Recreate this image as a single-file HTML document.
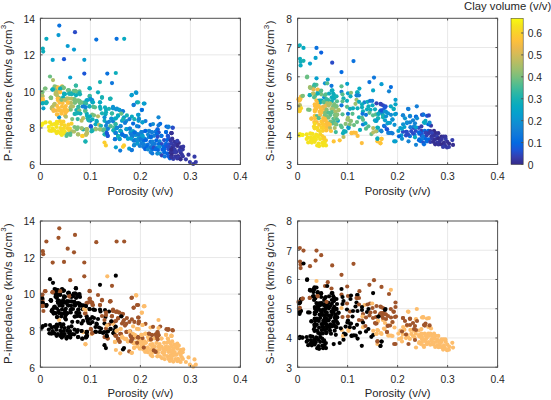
<!DOCTYPE html>
<html><head><meta charset="utf-8"><style>
html,body{margin:0;padding:0;background:#fff;}
svg{display:block;}
text{font-family:"Liberation Sans", sans-serif;fill:#262626;}
</style></head><body>
<svg width="551" height="400" viewBox="0 0 551 400">
<line x1="90.40" y1="18.3" x2="90.40" y2="164.5" stroke="#e8e8e8" stroke-width="1"/>
<line x1="140.40" y1="18.3" x2="140.40" y2="164.5" stroke="#e8e8e8" stroke-width="1"/>
<line x1="190.40" y1="18.3" x2="190.40" y2="164.5" stroke="#e8e8e8" stroke-width="1"/>
<line x1="40.4" y1="127.95" x2="240.4" y2="127.95" stroke="#e8e8e8" stroke-width="1"/>
<line x1="40.4" y1="91.40" x2="240.4" y2="91.40" stroke="#e8e8e8" stroke-width="1"/>
<line x1="40.4" y1="54.85" x2="240.4" y2="54.85" stroke="#e8e8e8" stroke-width="1"/>
<circle cx="61.4" cy="99.4" r="2.1" fill="#7abf7c"/>
<circle cx="65.8" cy="100.0" r="2.1" fill="#b8bd63"/>
<circle cx="68.9" cy="98.7" r="2.1" fill="#b8bd63"/>
<circle cx="74.3" cy="99.4" r="2.1" fill="#7abf7c"/>
<circle cx="54.8" cy="103.9" r="2.1" fill="#b8bd63"/>
<circle cx="60.1" cy="102.2" r="2.1" fill="#fdbe3e"/>
<circle cx="62.6" cy="103.1" r="2.1" fill="#fdbe3e"/>
<circle cx="68.3" cy="102.9" r="2.1" fill="#fdbe3e"/>
<circle cx="71.1" cy="102.9" r="2.1" fill="#b8bd63"/>
<circle cx="74.9" cy="102.6" r="2.1" fill="#7abf7c"/>
<circle cx="79.7" cy="103.1" r="2.1" fill="#6bbf83"/>
<circle cx="83.5" cy="102.6" r="2.1" fill="#33b8a1"/>
<circle cx="52.7" cy="106.6" r="2.1" fill="#b8bd63"/>
<circle cx="56.9" cy="105.8" r="2.1" fill="#fdbe3e"/>
<circle cx="62.0" cy="106.7" r="2.1" fill="#fdbe3e"/>
<circle cx="65.8" cy="106.1" r="2.1" fill="#fdbe3e"/>
<circle cx="70.5" cy="107.3" r="2.1" fill="#adbe68"/>
<circle cx="73.0" cy="106.3" r="2.1" fill="#adbe68"/>
<circle cx="78.2" cy="107.0" r="2.1" fill="#33b8a1"/>
<circle cx="82.7" cy="106.5" r="2.1" fill="#1484d4"/>
<circle cx="55.8" cy="110.5" r="2.1" fill="#f6ba46"/>
<circle cx="59.0" cy="110.4" r="2.1" fill="#fdbe3e"/>
<circle cx="64.1" cy="110.8" r="2.1" fill="#fdbe3e"/>
<circle cx="67.6" cy="110.4" r="2.1" fill="#fdbe3e"/>
<circle cx="70.8" cy="109.7" r="2.1" fill="#7abf7c"/>
<circle cx="76.3" cy="110.0" r="2.1" fill="#18b1b2"/>
<circle cx="79.3" cy="110.3" r="2.1" fill="#7abf7c"/>
<circle cx="61.4" cy="113.6" r="2.1" fill="#fdbe3e"/>
<circle cx="65.5" cy="112.9" r="2.1" fill="#fdbe3e"/>
<circle cx="74.6" cy="113.9" r="2.1" fill="#18b1b2"/>
<circle cx="77.6" cy="113.2" r="2.1" fill="#18b1b2"/>
<circle cx="50.0" cy="122.3" r="2.1" fill="#f5e31e"/>
<circle cx="56.8" cy="121.9" r="2.1" fill="#f5e71b"/>
<circle cx="60.0" cy="121.2" r="2.1" fill="#fad12b"/>
<circle cx="63.4" cy="121.7" r="2.1" fill="#fcce2d"/>
<circle cx="51.8" cy="124.6" r="2.1" fill="#f5e31e"/>
<circle cx="54.4" cy="124.1" r="2.1" fill="#f5e31e"/>
<circle cx="57.1" cy="123.7" r="2.1" fill="#f5e31e"/>
<circle cx="61.4" cy="124.2" r="2.1" fill="#fad12b"/>
<circle cx="64.7" cy="125.3" r="2.1" fill="#f7d826"/>
<circle cx="68.5" cy="124.7" r="2.1" fill="#fcce2d"/>
<circle cx="71.5" cy="123.7" r="2.1" fill="#fcce2d"/>
<circle cx="48.9" cy="126.9" r="2.1" fill="#f5ec18"/>
<circle cx="52.7" cy="128.5" r="2.1" fill="#f5e31e"/>
<circle cx="56.5" cy="127.0" r="2.1" fill="#f5e31e"/>
<circle cx="60.4" cy="128.1" r="2.1" fill="#f6dc23"/>
<circle cx="63.6" cy="128.3" r="2.1" fill="#f7d826"/>
<circle cx="67.2" cy="128.1" r="2.1" fill="#fad12b"/>
<circle cx="69.9" cy="128.5" r="2.1" fill="#fad12b"/>
<circle cx="74.5" cy="127.0" r="2.1" fill="#7abf7c"/>
<circle cx="51.4" cy="131.0" r="2.1" fill="#f5e31e"/>
<circle cx="54.4" cy="130.7" r="2.1" fill="#f5e31e"/>
<circle cx="57.9" cy="131.4" r="2.1" fill="#f6dc23"/>
<circle cx="61.5" cy="131.2" r="2.1" fill="#f6dc23"/>
<circle cx="64.7" cy="131.3" r="2.1" fill="#f5e31e"/>
<circle cx="69.2" cy="130.6" r="2.1" fill="#fad12b"/>
<circle cx="72.1" cy="131.4" r="2.1" fill="#adbe68"/>
<circle cx="56.6" cy="133.1" r="2.1" fill="#f5e31e"/>
<circle cx="60.4" cy="133.3" r="2.1" fill="#f5e31e"/>
<circle cx="63.9" cy="133.3" r="2.1" fill="#f5e31e"/>
<circle cx="67.5" cy="134.1" r="2.1" fill="#55bd8e"/>
<circle cx="70.2" cy="133.7" r="2.1" fill="#55bd8e"/>
<circle cx="135.7" cy="135.1" r="2.1" fill="#079dcf"/>
<circle cx="139.4" cy="135.2" r="2.1" fill="#1480d6"/>
<circle cx="138.3" cy="138.7" r="2.1" fill="#069fce"/>
<circle cx="141.1" cy="138.5" r="2.1" fill="#066fdf"/>
<circle cx="144.6" cy="138.7" r="2.1" fill="#1487d3"/>
<circle cx="148.8" cy="137.2" r="2.1" fill="#1487d3"/>
<circle cx="150.8" cy="137.4" r="2.1" fill="#1388d3"/>
<circle cx="168.7" cy="138.7" r="2.1" fill="#254fce"/>
<circle cx="172.2" cy="138.7" r="2.1" fill="#363195"/>
<circle cx="136.9" cy="141.0" r="2.1" fill="#1483d4"/>
<circle cx="140.0" cy="140.4" r="2.1" fill="#0b96d1"/>
<circle cx="143.6" cy="141.0" r="2.1" fill="#066ee0"/>
<circle cx="146.0" cy="140.1" r="2.1" fill="#0266e1"/>
<circle cx="150.4" cy="141.8" r="2.1" fill="#076fdf"/>
<circle cx="152.5" cy="141.5" r="2.1" fill="#1482d5"/>
<circle cx="156.4" cy="140.3" r="2.1" fill="#0364e1"/>
<circle cx="159.6" cy="141.4" r="2.1" fill="#1484d4"/>
<circle cx="164.1" cy="140.1" r="2.1" fill="#294cc9"/>
<circle cx="167.0" cy="140.1" r="2.1" fill="#0363e1"/>
<circle cx="170.6" cy="140.6" r="2.1" fill="#3637a2"/>
<circle cx="174.3" cy="141.8" r="2.1" fill="#363398"/>
<circle cx="177.0" cy="141.8" r="2.1" fill="#3638a3"/>
<circle cx="137.4" cy="143.7" r="2.1" fill="#089bd0"/>
<circle cx="141.5" cy="143.3" r="2.1" fill="#127cd8"/>
<circle cx="143.9" cy="144.5" r="2.1" fill="#079ecf"/>
<circle cx="147.8" cy="144.7" r="2.1" fill="#0b73dd"/>
<circle cx="152.2" cy="143.7" r="2.1" fill="#137fd7"/>
<circle cx="154.8" cy="143.9" r="2.1" fill="#1079da"/>
<circle cx="158.6" cy="144.0" r="2.1" fill="#046de0"/>
<circle cx="161.8" cy="144.1" r="2.1" fill="#2c4ac6"/>
<circle cx="165.9" cy="143.9" r="2.1" fill="#046ce0"/>
<circle cx="168.4" cy="144.3" r="2.1" fill="#1d54d5"/>
<circle cx="171.4" cy="143.5" r="2.1" fill="#353cab"/>
<circle cx="176.2" cy="143.9" r="2.1" fill="#36349a"/>
<circle cx="178.8" cy="143.0" r="2.1" fill="#362e8d"/>
<circle cx="139.8" cy="146.0" r="2.1" fill="#137fd7"/>
<circle cx="143.2" cy="146.8" r="2.1" fill="#1079da"/>
<circle cx="146.7" cy="146.6" r="2.1" fill="#0269e1"/>
<circle cx="150.2" cy="147.3" r="2.1" fill="#0e77db"/>
<circle cx="152.3" cy="146.0" r="2.1" fill="#127cd8"/>
<circle cx="156.9" cy="147.7" r="2.1" fill="#1483d5"/>
<circle cx="159.6" cy="146.8" r="2.1" fill="#0d92d2"/>
<circle cx="163.6" cy="146.5" r="2.1" fill="#0269e1"/>
<circle cx="166.6" cy="146.5" r="2.1" fill="#2052d3"/>
<circle cx="170.0" cy="147.0" r="2.1" fill="#3046be"/>
<circle cx="173.2" cy="146.6" r="2.1" fill="#352c8a"/>
<circle cx="177.5" cy="146.0" r="2.1" fill="#352d8d"/>
<circle cx="180.5" cy="147.3" r="2.1" fill="#3637a1"/>
<circle cx="145.1" cy="149.1" r="2.1" fill="#0761e0"/>
<circle cx="147.8" cy="149.5" r="2.1" fill="#1389d3"/>
<circle cx="152.1" cy="149.7" r="2.1" fill="#036be0"/>
<circle cx="155.5" cy="149.2" r="2.1" fill="#0770df"/>
<circle cx="158.0" cy="150.1" r="2.1" fill="#0269e1"/>
<circle cx="162.4" cy="149.7" r="2.1" fill="#0860e0"/>
<circle cx="164.6" cy="149.1" r="2.1" fill="#0265e1"/>
<circle cx="168.6" cy="149.2" r="2.1" fill="#284dcb"/>
<circle cx="172.5" cy="150.4" r="2.1" fill="#352d8c"/>
<circle cx="174.7" cy="149.4" r="2.1" fill="#353ba9"/>
<circle cx="179.3" cy="150.0" r="2.1" fill="#353dad"/>
<circle cx="182.7" cy="149.5" r="2.1" fill="#3637a1"/>
<circle cx="150.6" cy="152.1" r="2.1" fill="#1484d4"/>
<circle cx="152.3" cy="153.5" r="2.1" fill="#0f78db"/>
<circle cx="157.3" cy="153.6" r="2.1" fill="#128bd2"/>
<circle cx="159.9" cy="153.6" r="2.1" fill="#0f90d2"/>
<circle cx="164.2" cy="152.2" r="2.1" fill="#0269e1"/>
<circle cx="167.2" cy="153.4" r="2.1" fill="#0462e0"/>
<circle cx="170.5" cy="152.8" r="2.1" fill="#363296"/>
<circle cx="173.2" cy="152.5" r="2.1" fill="#363296"/>
<circle cx="176.5" cy="152.0" r="2.1" fill="#36349a"/>
<circle cx="180.6" cy="152.4" r="2.1" fill="#363297"/>
<circle cx="161.9" cy="155.4" r="2.1" fill="#3243b9"/>
<circle cx="164.7" cy="156.4" r="2.1" fill="#0e77db"/>
<circle cx="168.5" cy="156.2" r="2.1" fill="#1658da"/>
<circle cx="171.6" cy="155.2" r="2.1" fill="#352c8b"/>
<circle cx="175.4" cy="156.3" r="2.1" fill="#36369f"/>
<circle cx="178.1" cy="156.2" r="2.1" fill="#352c8b"/>
<circle cx="182.9" cy="156.3" r="2.1" fill="#36359d"/>
<circle cx="169.9" cy="158.3" r="2.1" fill="#0760e0"/>
<circle cx="173.3" cy="158.9" r="2.1" fill="#353dad"/>
<circle cx="177.2" cy="158.4" r="2.1" fill="#36369f"/>
<circle cx="179.8" cy="158.4" r="2.1" fill="#352c8a"/>
<circle cx="59.3" cy="25.6" r="2.1" fill="#0a72de"/>
<circle cx="75.0" cy="32.2" r="2.1" fill="#2b4bc7"/>
<circle cx="58.5" cy="35.1" r="2.1" fill="#0899d1"/>
<circle cx="46.4" cy="38.8" r="2.1" fill="#07aac1"/>
<circle cx="96.3" cy="39.6" r="2.1" fill="#0a72de"/>
<circle cx="67.7" cy="46.0" r="2.1" fill="#079cd0"/>
<circle cx="74.0" cy="49.6" r="2.1" fill="#079cd0"/>
<circle cx="42.8" cy="48.6" r="2.1" fill="#0cadbb"/>
<circle cx="43.2" cy="51.6" r="2.1" fill="#0cadbb"/>
<circle cx="52.7" cy="59.9" r="2.1" fill="#06a3cb"/>
<circle cx="64.0" cy="59.2" r="2.1" fill="#1b55d7"/>
<circle cx="84.3" cy="59.8" r="2.1" fill="#079cd0"/>
<circle cx="84.3" cy="73.6" r="2.1" fill="#1b55d7"/>
<circle cx="116.6" cy="38.8" r="2.1" fill="#0a72de"/>
<circle cx="124.2" cy="38.8" r="2.1" fill="#07aac1"/>
<circle cx="107.3" cy="73.6" r="2.1" fill="#0a72de"/>
<circle cx="115.8" cy="73.0" r="2.1" fill="#0cadbb"/>
<circle cx="50.0" cy="76.5" r="2.1" fill="#6bbf83"/>
<circle cx="53.0" cy="80.1" r="2.1" fill="#adbe68"/>
<circle cx="70.2" cy="77.5" r="2.1" fill="#079cd0"/>
<circle cx="75.8" cy="85.5" r="2.1" fill="#33b8a1"/>
<circle cx="45.5" cy="88.5" r="2.1" fill="#7abf7c"/>
<circle cx="52.8" cy="89.5" r="2.1" fill="#0cadbb"/>
<circle cx="42.5" cy="92.1" r="2.1" fill="#7abf7c"/>
<circle cx="56.0" cy="86.8" r="2.1" fill="#88bf77"/>
<circle cx="62.0" cy="86.3" r="2.1" fill="#fdbe3e"/>
<circle cx="60.2" cy="88.5" r="2.1" fill="#0cadbb"/>
<circle cx="64.0" cy="87.8" r="2.1" fill="#7abf7c"/>
<circle cx="57.0" cy="91.3" r="2.1" fill="#b8bd63"/>
<circle cx="60.0" cy="92.3" r="2.1" fill="#fdbe3e"/>
<circle cx="55.5" cy="94.1" r="2.1" fill="#b8bd63"/>
<circle cx="69.0" cy="90.5" r="2.1" fill="#6bbf83"/>
<circle cx="69.5" cy="93.5" r="2.1" fill="#18b1b2"/>
<circle cx="73.0" cy="93.5" r="2.1" fill="#0cadbb"/>
<circle cx="75.5" cy="90.8" r="2.1" fill="#6bbf83"/>
<circle cx="79.0" cy="91.8" r="2.1" fill="#55bd8e"/>
<circle cx="80.0" cy="94.3" r="2.1" fill="#18b1b2"/>
<circle cx="65.0" cy="94.1" r="2.1" fill="#0cadbb"/>
<circle cx="50.8" cy="97.8" r="2.1" fill="#7abf7c"/>
<circle cx="42.5" cy="96.3" r="2.1" fill="#adbe68"/>
<circle cx="42.5" cy="98.3" r="2.1" fill="#fdbe3e"/>
<circle cx="43.0" cy="100.3" r="2.1" fill="#fdbe3e"/>
<circle cx="46.5" cy="102.3" r="2.1" fill="#18b1b2"/>
<circle cx="42.5" cy="103.5" r="2.1" fill="#0cadbb"/>
<circle cx="59.0" cy="97.8" r="2.1" fill="#7abf7c"/>
<circle cx="58.0" cy="100.3" r="2.1" fill="#fdbe3e"/>
<circle cx="63.0" cy="99.3" r="2.1" fill="#b8bd63"/>
<circle cx="67.0" cy="98.3" r="2.1" fill="#b8bd63"/>
<circle cx="74.0" cy="99.3" r="2.1" fill="#7abf7c"/>
<circle cx="78.0" cy="100.3" r="2.1" fill="#7abf7c"/>
<circle cx="81.0" cy="102.3" r="2.1" fill="#6bbf83"/>
<circle cx="85.0" cy="103.3" r="2.1" fill="#33b8a1"/>
<circle cx="86.5" cy="100.3" r="2.1" fill="#06a6c6"/>
<circle cx="100.0" cy="82.1" r="2.1" fill="#18b1b2"/>
<circle cx="112.0" cy="83.1" r="2.1" fill="#0f77db"/>
<circle cx="89.8" cy="88.5" r="2.1" fill="#0cadbb"/>
<circle cx="98.0" cy="92.3" r="2.1" fill="#0cadbb"/>
<circle cx="136.0" cy="92.3" r="2.1" fill="#069ece"/>
<circle cx="131.5" cy="95.3" r="2.1" fill="#069ece"/>
<circle cx="89.8" cy="95.8" r="2.1" fill="#33b8a1"/>
<circle cx="102.0" cy="97.1" r="2.1" fill="#18b1b2"/>
<circle cx="110.2" cy="98.8" r="2.1" fill="#18b1b2"/>
<circle cx="91.0" cy="99.8" r="2.1" fill="#0d93d2"/>
<circle cx="92.5" cy="102.3" r="2.1" fill="#07aac1"/>
<circle cx="100.0" cy="102.3" r="2.1" fill="#07aac1"/>
<circle cx="137.0" cy="102.3" r="2.1" fill="#069ece"/>
<circle cx="133.5" cy="105.1" r="2.1" fill="#118cd2"/>
<circle cx="113.0" cy="106.8" r="2.1" fill="#0d93d2"/>
<circle cx="144.5" cy="103.5" r="2.1" fill="#128bd3"/>
<circle cx="141.8" cy="110.1" r="2.1" fill="#079cd0"/>
<circle cx="138.5" cy="114.8" r="2.1" fill="#127cd8"/>
<circle cx="139.0" cy="118.8" r="2.1" fill="#07aac1"/>
<circle cx="138.5" cy="120.8" r="2.1" fill="#069ece"/>
<circle cx="158.5" cy="117.3" r="2.1" fill="#1487d3"/>
<circle cx="145.5" cy="121.1" r="2.1" fill="#127cd8"/>
<circle cx="142.5" cy="122.3" r="2.1" fill="#0998d1"/>
<circle cx="150.5" cy="124.8" r="2.1" fill="#0268e1"/>
<circle cx="153.0" cy="124.1" r="2.1" fill="#118cd2"/>
<circle cx="160.2" cy="123.8" r="2.1" fill="#036ae1"/>
<circle cx="158.5" cy="125.3" r="2.1" fill="#1079da"/>
<circle cx="166.5" cy="126.5" r="2.1" fill="#036ae1"/>
<circle cx="168.5" cy="126.5" r="2.1" fill="#118cd2"/>
<circle cx="172.5" cy="127.5" r="2.1" fill="#127cd8"/>
<circle cx="138.5" cy="126.5" r="2.1" fill="#066fdf"/>
<circle cx="141.5" cy="132.1" r="2.1" fill="#079ecf"/>
<circle cx="145.5" cy="130.8" r="2.1" fill="#1484d4"/>
<circle cx="149.0" cy="130.8" r="2.1" fill="#07aac1"/>
<circle cx="152.0" cy="132.3" r="2.1" fill="#118cd2"/>
<circle cx="157.5" cy="129.3" r="2.1" fill="#2b4bc7"/>
<circle cx="156.5" cy="131.8" r="2.1" fill="#036ae1"/>
<circle cx="158.5" cy="132.3" r="2.1" fill="#036ae1"/>
<circle cx="166.0" cy="132.1" r="2.1" fill="#0e77db"/>
<circle cx="171.5" cy="133.1" r="2.1" fill="#352b88"/>
<circle cx="138.5" cy="134.8" r="2.1" fill="#18b1b2"/>
<circle cx="142.5" cy="136.3" r="2.1" fill="#079cd0"/>
<circle cx="148.0" cy="134.5" r="2.1" fill="#1388d3"/>
<circle cx="151.0" cy="136.3" r="2.1" fill="#036ae1"/>
<circle cx="154.0" cy="135.8" r="2.1" fill="#137fd7"/>
<circle cx="157.5" cy="135.8" r="2.1" fill="#118cd2"/>
<circle cx="161.5" cy="135.8" r="2.1" fill="#0268e1"/>
<circle cx="167.8" cy="135.8" r="2.1" fill="#2450cf"/>
<circle cx="55.9" cy="88.2" r="2.1" fill="#88bf77"/>
<circle cx="63.1" cy="88.2" r="2.1" fill="#7abf7c"/>
<circle cx="68.6" cy="90.0" r="2.1" fill="#6bbf83"/>
<circle cx="75.0" cy="90.9" r="2.1" fill="#6bbf83"/>
<circle cx="79.5" cy="91.4" r="2.1" fill="#55bd8e"/>
<circle cx="56.8" cy="93.7" r="2.1" fill="#b8bd63"/>
<circle cx="64.0" cy="93.7" r="2.1" fill="#0cadbb"/>
<circle cx="72.2" cy="93.2" r="2.1" fill="#0cadbb"/>
<circle cx="77.7" cy="93.7" r="2.1" fill="#18b1b2"/>
<circle cx="50.9" cy="97.7" r="2.1" fill="#7abf7c"/>
<circle cx="57.7" cy="98.6" r="2.1" fill="#fdbe3e"/>
<circle cx="63.1" cy="97.3" r="2.1" fill="#0cadbb"/>
<circle cx="74.0" cy="99.1" r="2.1" fill="#7abf7c"/>
<circle cx="79.5" cy="100.9" r="2.1" fill="#6bbf83"/>
<circle cx="46.4" cy="102.3" r="2.1" fill="#18b1b2"/>
<circle cx="54.1" cy="104.5" r="2.1" fill="#b8bd63"/>
<circle cx="59.5" cy="102.7" r="2.1" fill="#fdbe3e"/>
<circle cx="67.7" cy="102.3" r="2.1" fill="#fdbe3e"/>
<circle cx="75.0" cy="102.7" r="2.1" fill="#7abf7c"/>
<circle cx="81.3" cy="102.7" r="2.1" fill="#6bbf83"/>
<circle cx="85.8" cy="103.6" r="2.1" fill="#33b8a1"/>
<circle cx="51.8" cy="108.6" r="2.1" fill="#b8bd63"/>
<circle cx="58.6" cy="108.2" r="2.1" fill="#fdbe3e"/>
<circle cx="65.0" cy="108.2" r="2.1" fill="#fdbe3e"/>
<circle cx="71.3" cy="106.4" r="2.1" fill="#adbe68"/>
<circle cx="78.6" cy="106.8" r="2.1" fill="#33b8a1"/>
<circle cx="89.5" cy="106.4" r="2.1" fill="#0cadbb"/>
<circle cx="93.5" cy="106.8" r="2.1" fill="#55bd8e"/>
<circle cx="53.6" cy="110.9" r="2.1" fill="#f6ba46"/>
<circle cx="61.3" cy="110.9" r="2.1" fill="#fdbe3e"/>
<circle cx="66.3" cy="111.3" r="2.1" fill="#fdbe3e"/>
<circle cx="57.3" cy="114.5" r="2.1" fill="#fdbe3e"/>
<circle cx="65.0" cy="115.4" r="2.1" fill="#fdbe3e"/>
<circle cx="75.9" cy="113.6" r="2.1" fill="#18b1b2"/>
<circle cx="80.4" cy="113.6" r="2.1" fill="#0cadbb"/>
<circle cx="86.7" cy="113.6" r="2.1" fill="#0cadbb"/>
<circle cx="92.2" cy="114.5" r="2.1" fill="#7abf7c"/>
<circle cx="72.2" cy="119.1" r="2.1" fill="#7abf7c"/>
<circle cx="77.7" cy="119.1" r="2.1" fill="#33b8a1"/>
<circle cx="83.1" cy="118.2" r="2.1" fill="#b8bd63"/>
<circle cx="87.6" cy="118.2" r="2.1" fill="#18b1b2"/>
<circle cx="52.3" cy="89.6" r="2.1" fill="#0cadbb"/>
<circle cx="60.0" cy="88.7" r="2.1" fill="#0cadbb"/>
<circle cx="69.5" cy="93.7" r="2.1" fill="#18b1b2"/>
<circle cx="89.5" cy="88.2" r="2.1" fill="#0cadbb"/>
<circle cx="89.5" cy="96.4" r="2.1" fill="#33b8a1"/>
<circle cx="87.6" cy="100.0" r="2.1" fill="#06a6c6"/>
<circle cx="92.2" cy="100.0" r="2.1" fill="#0d93d2"/>
<circle cx="85.0" cy="110.9" r="2.1" fill="#55bd8e"/>
<circle cx="59.1" cy="117.3" r="2.1" fill="#0d93d2"/>
<circle cx="84.0" cy="106.3" r="2.1" fill="#1484d4"/>
<circle cx="42.9" cy="123.5" r="2.1" fill="#f5ec18"/>
<circle cx="45.6" cy="122.4" r="2.1" fill="#f5e31e"/>
<circle cx="41.8" cy="125.1" r="2.1" fill="#f5ec18"/>
<circle cx="77.8" cy="127.3" r="2.1" fill="#7abf7c"/>
<circle cx="81.6" cy="128.3" r="2.1" fill="#9bbf6f"/>
<circle cx="86.0" cy="129.5" r="2.1" fill="#adbe68"/>
<circle cx="87.0" cy="132.7" r="2.1" fill="#b8bd63"/>
<circle cx="78.3" cy="134.3" r="2.1" fill="#adbe68"/>
<circle cx="82.1" cy="136.0" r="2.1" fill="#fcce2d"/>
<circle cx="86.0" cy="134.9" r="2.1" fill="#b8bd63"/>
<circle cx="85.4" cy="141.4" r="2.1" fill="#18b1b2"/>
<circle cx="83.2" cy="129.5" r="2.1" fill="#18b1b2"/>
<circle cx="90.8" cy="126.2" r="2.1" fill="#1b55d7"/>
<circle cx="92.5" cy="130.6" r="2.1" fill="#18b1b2"/>
<circle cx="81.6" cy="120.7" r="2.1" fill="#b8bd63"/>
<circle cx="90.3" cy="120.7" r="2.1" fill="#0f77db"/>
<circle cx="96.8" cy="121.8" r="2.1" fill="#07aac1"/>
<circle cx="49.4" cy="130.6" r="2.1" fill="#f5e31e"/>
<circle cx="57.0" cy="132.1" r="2.1" fill="#f5e31e"/>
<circle cx="61.8" cy="134.9" r="2.1" fill="#f5e31e"/>
<circle cx="66.5" cy="135.9" r="2.1" fill="#55bd8e"/>
<circle cx="70.3" cy="134.9" r="2.1" fill="#55bd8e"/>
<circle cx="74.1" cy="131.6" r="2.1" fill="#adbe68"/>
<circle cx="77.9" cy="134.4" r="2.1" fill="#adbe68"/>
<circle cx="77.0" cy="129.2" r="2.1" fill="#7abf7c"/>
<circle cx="81.7" cy="128.3" r="2.1" fill="#9bbf6f"/>
<circle cx="82.7" cy="135.9" r="2.1" fill="#fcce2d"/>
<circle cx="86.5" cy="134.0" r="2.1" fill="#b8bd63"/>
<circle cx="87.0" cy="129.2" r="2.1" fill="#adbe68"/>
<circle cx="86.0" cy="103.3" r="2.1" fill="#33b8a1"/>
<circle cx="89.5" cy="106.3" r="2.1" fill="#0cadbb"/>
<circle cx="93.5" cy="106.8" r="2.1" fill="#55bd8e"/>
<circle cx="95.0" cy="107.3" r="2.1" fill="#55bd8e"/>
<circle cx="100.0" cy="106.8" r="2.1" fill="#0cadbb"/>
<circle cx="100.5" cy="108.8" r="2.1" fill="#0cadbb"/>
<circle cx="105.0" cy="107.3" r="2.1" fill="#0cadbb"/>
<circle cx="109.0" cy="108.8" r="2.1" fill="#18b1b2"/>
<circle cx="121.5" cy="113.3" r="2.1" fill="#27b5a8"/>
<circle cx="87.0" cy="115.8" r="2.1" fill="#0cadbb"/>
<circle cx="90.0" cy="116.3" r="2.1" fill="#07aac1"/>
<circle cx="94.0" cy="115.3" r="2.1" fill="#7abf7c"/>
<circle cx="98.0" cy="116.3" r="2.1" fill="#b8bd63"/>
<circle cx="88.5" cy="120.3" r="2.1" fill="#18b1b2"/>
<circle cx="92.5" cy="119.3" r="2.1" fill="#0cadbb"/>
<circle cx="96.5" cy="120.8" r="2.1" fill="#07aac1"/>
<circle cx="105.5" cy="114.3" r="2.1" fill="#0cadbb"/>
<circle cx="111.5" cy="118.8" r="2.1" fill="#0d93d2"/>
<circle cx="104.5" cy="120.8" r="2.1" fill="#0cadbb"/>
<circle cx="95.5" cy="124.3" r="2.1" fill="#07aac1"/>
<circle cx="99.0" cy="124.8" r="2.1" fill="#adbe68"/>
<circle cx="101.0" cy="125.8" r="2.1" fill="#18b1b2"/>
<circle cx="115.5" cy="123.8" r="2.1" fill="#88bf77"/>
<circle cx="114.5" cy="127.3" r="2.1" fill="#55bd8e"/>
<circle cx="110.5" cy="126.3" r="2.1" fill="#55bd8e"/>
<circle cx="106.5" cy="129.3" r="2.1" fill="#1484d4"/>
<circle cx="96.0" cy="129.3" r="2.1" fill="#9bbf6f"/>
<circle cx="100.0" cy="129.3" r="2.1" fill="#9bbf6f"/>
<circle cx="103.0" cy="130.3" r="2.1" fill="#55bd8e"/>
<circle cx="113.5" cy="130.3" r="2.1" fill="#0cadbb"/>
<circle cx="86.5" cy="129.8" r="2.1" fill="#adbe68"/>
<circle cx="86.5" cy="133.8" r="2.1" fill="#b8bd63"/>
<circle cx="106.5" cy="132.8" r="2.1" fill="#1b55d7"/>
<circle cx="90.5" cy="98.8" r="2.1" fill="#0d93d2"/>
<circle cx="93.0" cy="102.3" r="2.1" fill="#07aac1"/>
<circle cx="102.0" cy="97.8" r="2.1" fill="#18b1b2"/>
<circle cx="110.0" cy="98.8" r="2.1" fill="#18b1b2"/>
<circle cx="100.0" cy="102.3" r="2.1" fill="#07aac1"/>
<circle cx="85.5" cy="110.3" r="2.1" fill="#55bd8e"/>
<circle cx="106.0" cy="109.8" r="2.1" fill="#0cadbb"/>
<circle cx="106.0" cy="112.3" r="2.1" fill="#0cadbb"/>
<circle cx="113.0" cy="108.3" r="2.1" fill="#0d93d2"/>
<circle cx="116.0" cy="109.3" r="2.1" fill="#0d93d2"/>
<circle cx="119.0" cy="109.8" r="2.1" fill="#127cd8"/>
<circle cx="123.0" cy="111.3" r="2.1" fill="#127cd8"/>
<circle cx="102.0" cy="113.3" r="2.1" fill="#18b1b2"/>
<circle cx="112.0" cy="113.3" r="2.1" fill="#33b8a1"/>
<circle cx="118.0" cy="115.8" r="2.1" fill="#07aac1"/>
<circle cx="116.0" cy="118.3" r="2.1" fill="#07aac1"/>
<circle cx="124.0" cy="117.3" r="2.1" fill="#069ece"/>
<circle cx="104.5" cy="117.3" r="2.1" fill="#0d93d2"/>
<circle cx="109.0" cy="121.8" r="2.1" fill="#1484d4"/>
<circle cx="122.0" cy="120.8" r="2.1" fill="#069ece"/>
<circle cx="91.0" cy="126.8" r="2.1" fill="#1b55d7"/>
<circle cx="92.5" cy="130.3" r="2.1" fill="#18b1b2"/>
<circle cx="106.0" cy="125.8" r="2.1" fill="#1484d4"/>
<circle cx="121.0" cy="131.3" r="2.1" fill="#07aac1"/>
<circle cx="116.0" cy="132.8" r="2.1" fill="#118cd2"/>
<circle cx="104.5" cy="134.3" r="2.1" fill="#18b1b2"/>
<circle cx="107.5" cy="135.8" r="2.1" fill="#1b55d7"/>
<circle cx="118.0" cy="135.8" r="2.1" fill="#18b1b2"/>
<circle cx="85.5" cy="107.3" r="2.1" fill="#1484d4"/>
<circle cx="107.0" cy="122.8" r="2.1" fill="#1484d4"/>
<circle cx="113.0" cy="121.3" r="2.1" fill="#1484d4"/>
<circle cx="117.0" cy="127.8" r="2.1" fill="#0b96d1"/>
<circle cx="120.5" cy="126.3" r="2.1" fill="#0c74dd"/>
<circle cx="91.5" cy="131.3" r="2.1" fill="#18b1b2"/>
<circle cx="122.0" cy="134.8" r="2.1" fill="#1078da"/>
<circle cx="124.5" cy="135.8" r="2.1" fill="#036be0"/>
<circle cx="110.6" cy="98.5" r="2.1" fill="#18b1b2"/>
<circle cx="131.9" cy="94.8" r="2.1" fill="#069ece"/>
<circle cx="133.8" cy="104.8" r="2.1" fill="#127cd8"/>
<circle cx="138.1" cy="102.3" r="2.1" fill="#18b1b2"/>
<circle cx="113.1" cy="107.9" r="2.1" fill="#0d93d2"/>
<circle cx="116.9" cy="108.6" r="2.1" fill="#0d93d2"/>
<circle cx="119.4" cy="109.8" r="2.1" fill="#069ece"/>
<circle cx="122.5" cy="111.1" r="2.1" fill="#127cd8"/>
<circle cx="111.9" cy="113.6" r="2.1" fill="#33b8a1"/>
<circle cx="118.1" cy="115.4" r="2.1" fill="#07aac1"/>
<circle cx="115.0" cy="118.6" r="2.1" fill="#07aac1"/>
<circle cx="126.9" cy="115.4" r="2.1" fill="#18b1b2"/>
<circle cx="131.9" cy="116.7" r="2.1" fill="#07aac1"/>
<circle cx="138.1" cy="114.8" r="2.1" fill="#069ece"/>
<circle cx="123.1" cy="119.2" r="2.1" fill="#18b1b2"/>
<circle cx="126.3" cy="121.1" r="2.1" fill="#118cd2"/>
<circle cx="129.4" cy="119.2" r="2.1" fill="#127cd8"/>
<circle cx="134.4" cy="119.2" r="2.1" fill="#18b1b2"/>
<circle cx="138.8" cy="119.2" r="2.1" fill="#118cd2"/>
<circle cx="125.0" cy="122.9" r="2.1" fill="#127cd8"/>
<circle cx="126.3" cy="129.2" r="2.1" fill="#118cd2"/>
<circle cx="130.0" cy="128.6" r="2.1" fill="#069ece"/>
<circle cx="130.6" cy="132.3" r="2.1" fill="#127cd8"/>
<circle cx="132.5" cy="135.4" r="2.1" fill="#118cd2"/>
<circle cx="120.6" cy="131.1" r="2.1" fill="#118cd2"/>
<circle cx="115.6" cy="132.9" r="2.1" fill="#069ece"/>
<circle cx="118.1" cy="136.1" r="2.1" fill="#069ece"/>
<circle cx="119.4" cy="138.6" r="2.1" fill="#18b1b2"/>
<circle cx="137.5" cy="134.2" r="2.1" fill="#118cd2"/>
<circle cx="142.5" cy="135.4" r="2.1" fill="#069ece"/>
<circle cx="121.3" cy="113.6" r="2.1" fill="#6bbf83"/>
<circle cx="111.3" cy="118.6" r="2.1" fill="#0d93d2"/>
<circle cx="115.6" cy="124.2" r="2.1" fill="#27b5a8"/>
<circle cx="113.8" cy="129.8" r="2.1" fill="#3fba99"/>
<circle cx="110.6" cy="126.1" r="2.1" fill="#55bd8e"/>
<circle cx="136.3" cy="92.9" r="2.1" fill="#0a96d1"/>
<circle cx="143.8" cy="103.6" r="2.1" fill="#06a0cd"/>
<circle cx="141.9" cy="109.8" r="2.1" fill="#046ce0"/>
<circle cx="133.1" cy="123.6" r="2.1" fill="#036be0"/>
<circle cx="136.9" cy="126.1" r="2.1" fill="#1484d4"/>
<circle cx="142.5" cy="122.3" r="2.1" fill="#069fce"/>
<circle cx="120.6" cy="126.1" r="2.1" fill="#1484d4"/>
<circle cx="116.9" cy="127.9" r="2.1" fill="#0f77db"/>
<circle cx="135.0" cy="132.3" r="2.1" fill="#1481d6"/>
<circle cx="141.3" cy="132.3" r="2.1" fill="#118dd2"/>
<circle cx="122.5" cy="134.8" r="2.1" fill="#118cd2"/>
<circle cx="126.3" cy="136.1" r="2.1" fill="#118dd2"/>
<circle cx="115.0" cy="139.2" r="2.1" fill="#0f77db"/>
<circle cx="128.1" cy="138.6" r="2.1" fill="#079bd0"/>
<circle cx="135.0" cy="139.8" r="2.1" fill="#069fce"/>
<circle cx="140.0" cy="139.2" r="2.1" fill="#117ad9"/>
<circle cx="86.4" cy="134.0" r="2.1" fill="#b8bd63"/>
<circle cx="86.9" cy="129.2" r="2.1" fill="#adbe68"/>
<circle cx="85.5" cy="141.6" r="2.1" fill="#18b1b2"/>
<circle cx="92.1" cy="130.6" r="2.1" fill="#18b1b2"/>
<circle cx="95.5" cy="128.8" r="2.1" fill="#9bbf6f"/>
<circle cx="100.0" cy="129.3" r="2.1" fill="#9bbf6f"/>
<circle cx="104.0" cy="129.3" r="2.1" fill="#55bd8e"/>
<circle cx="108.0" cy="128.8" r="2.1" fill="#1484d4"/>
<circle cx="113.5" cy="130.6" r="2.1" fill="#0cadbb"/>
<circle cx="105.0" cy="134.4" r="2.1" fill="#18b1b2"/>
<circle cx="107.8" cy="135.9" r="2.1" fill="#1b55d7"/>
<circle cx="106.9" cy="133.5" r="2.1" fill="#1b55d7"/>
<circle cx="104.5" cy="142.5" r="2.1" fill="#fcce2d"/>
<circle cx="105.9" cy="145.4" r="2.1" fill="#fcce2d"/>
<circle cx="115.4" cy="133.0" r="2.1" fill="#127cd8"/>
<circle cx="120.2" cy="131.1" r="2.1" fill="#07aac1"/>
<circle cx="118.3" cy="136.8" r="2.1" fill="#18b1b2"/>
<circle cx="119.7" cy="139.2" r="2.1" fill="#069ece"/>
<circle cx="115.0" cy="139.2" r="2.1" fill="#0f77db"/>
<circle cx="116.4" cy="128.3" r="2.1" fill="#108fd2"/>
<circle cx="122.1" cy="134.0" r="2.1" fill="#046de0"/>
<circle cx="124.9" cy="136.3" r="2.1" fill="#0c74dd"/>
<circle cx="126.8" cy="129.2" r="2.1" fill="#069ece"/>
<circle cx="130.6" cy="133.0" r="2.1" fill="#07aac1"/>
<circle cx="131.6" cy="136.8" r="2.1" fill="#127cd8"/>
<circle cx="129.7" cy="128.7" r="2.1" fill="#0f78db"/>
<circle cx="133.0" cy="131.1" r="2.1" fill="#069fce"/>
<circle cx="127.8" cy="138.7" r="2.1" fill="#069fce"/>
<circle cx="133.5" cy="140.6" r="2.1" fill="#1486d4"/>
<circle cx="124.0" cy="145.4" r="2.1" fill="#fcce2d"/>
<circle cx="123.0" cy="146.8" r="2.1" fill="#fcce2d"/>
<circle cx="115.9" cy="147.3" r="2.1" fill="#069fce"/>
<circle cx="120.2" cy="150.6" r="2.1" fill="#117ad9"/>
<circle cx="129.2" cy="148.7" r="2.1" fill="#069ece"/>
<circle cx="131.6" cy="150.1" r="2.1" fill="#0c74dd"/>
<circle cx="134.0" cy="145.4" r="2.1" fill="#127bd9"/>
<circle cx="134.3" cy="132.5" r="2.1" fill="#066fdf"/>
<circle cx="134.8" cy="140.6" r="2.1" fill="#1079da"/>
<circle cx="134.3" cy="144.9" r="2.1" fill="#118dd2"/>
<circle cx="131.9" cy="150.1" r="2.1" fill="#0f77db"/>
<circle cx="131.0" cy="134.0" r="2.1" fill="#127cd8"/>
<circle cx="132.4" cy="136.3" r="2.1" fill="#127cd8"/>
<circle cx="131.0" cy="138.7" r="2.1" fill="#069ece"/>
<circle cx="138.1" cy="134.7" r="2.1" fill="#127cd8"/>
<circle cx="137.1" cy="140.1" r="2.1" fill="#118cd2"/>
<circle cx="141.9" cy="132.1" r="2.1" fill="#137fd7"/>
<circle cx="145.2" cy="131.1" r="2.1" fill="#0363e1"/>
<circle cx="149.0" cy="131.1" r="2.1" fill="#127cd8"/>
<circle cx="151.9" cy="132.1" r="2.1" fill="#127cd8"/>
<circle cx="155.7" cy="131.6" r="2.1" fill="#127cd8"/>
<circle cx="157.6" cy="129.7" r="2.1" fill="#036ae1"/>
<circle cx="158.5" cy="132.5" r="2.1" fill="#2b4bc7"/>
<circle cx="156.6" cy="133.5" r="2.1" fill="#036ae1"/>
<circle cx="166.1" cy="132.1" r="2.1" fill="#0268e1"/>
<circle cx="171.3" cy="133.0" r="2.1" fill="#3638a3"/>
<circle cx="161.4" cy="135.9" r="2.1" fill="#0a72de"/>
<circle cx="168.0" cy="136.3" r="2.1" fill="#1f53d4"/>
<circle cx="171.6" cy="133.2" r="2.1" fill="#363194"/>
<circle cx="177.3" cy="140.8" r="2.1" fill="#353eae"/>
<circle cx="181.9" cy="147.4" r="2.1" fill="#352d8d"/>
<circle cx="183.2" cy="146.7" r="2.1" fill="#3638a3"/>
<circle cx="174.0" cy="145.4" r="2.1" fill="#3637a0"/>
<circle cx="171.3" cy="149.4" r="2.1" fill="#352b89"/>
<circle cx="175.3" cy="152.0" r="2.1" fill="#353ba8"/>
<circle cx="180.6" cy="150.7" r="2.1" fill="#353caa"/>
<circle cx="181.9" cy="154.7" r="2.1" fill="#3636a0"/>
<circle cx="178.0" cy="157.3" r="2.1" fill="#3638a4"/>
<circle cx="185.9" cy="159.3" r="2.1" fill="#363aa7"/>
<circle cx="180.6" cy="159.3" r="2.1" fill="#352d8c"/>
<circle cx="171.3" cy="157.3" r="2.1" fill="#36349b"/>
<circle cx="188.5" cy="154.7" r="2.1" fill="#36349b"/>
<circle cx="194.5" cy="156.7" r="2.1" fill="#353ba8"/>
<circle cx="189.9" cy="162.0" r="2.1" fill="#363aa7"/>
<circle cx="195.8" cy="162.0" r="2.1" fill="#353aa8"/>
<circle cx="193.2" cy="164.0" r="2.1" fill="#36369e"/>
<circle cx="150.9" cy="136.8" r="2.1" fill="#036ae1"/>
<circle cx="157.6" cy="136.8" r="2.1" fill="#2b4bc7"/>
<circle cx="143.8" cy="144.9" r="2.1" fill="#127cd8"/>
<circle cx="153.8" cy="147.7" r="2.1" fill="#2b4bc7"/>
<circle cx="155.7" cy="149.2" r="2.1" fill="#036ae1"/>
<circle cx="168.0" cy="127.3" r="2.1" fill="#127cd8"/>
<circle cx="172.8" cy="127.8" r="2.1" fill="#2b4bc7"/>
<circle cx="54.6" cy="86.3" r="2.1" fill="#88bf77"/>
<circle cx="58.0" cy="87.3" r="2.1" fill="#fdbe3e"/>
<circle cx="62.5" cy="86.9" r="2.1" fill="#7abf7c"/>
<circle cx="76.0" cy="85.7" r="2.1" fill="#33b8a1"/>
<circle cx="55.7" cy="91.9" r="2.1" fill="#b8bd63"/>
<circle cx="60.2" cy="91.9" r="2.1" fill="#fdbe3e"/>
<circle cx="68.0" cy="90.3" r="2.1" fill="#6bbf83"/>
<circle cx="73.7" cy="90.8" r="2.1" fill="#6bbf83"/>
<circle cx="77.0" cy="91.9" r="2.1" fill="#6bbf83"/>
<circle cx="79.4" cy="93.0" r="2.1" fill="#18b1b2"/>
<circle cx="56.9" cy="95.3" r="2.1" fill="#b8bd63"/>
<circle cx="64.2" cy="94.2" r="2.1" fill="#0cadbb"/>
<circle cx="71.5" cy="94.2" r="2.1" fill="#18b1b2"/>
<circle cx="76.0" cy="95.3" r="2.1" fill="#0cadbb"/>
<circle cx="51.2" cy="98.1" r="2.1" fill="#7abf7c"/>
<circle cx="58.0" cy="98.7" r="2.1" fill="#fdbe3e"/>
<circle cx="61.4" cy="99.8" r="2.1" fill="#7abf7c"/>
<circle cx="64.7" cy="99.8" r="2.1" fill="#b8bd63"/>
<circle cx="71.5" cy="98.7" r="2.1" fill="#b8bd63"/>
<circle cx="74.9" cy="99.8" r="2.1" fill="#7abf7c"/>
<circle cx="78.2" cy="100.9" r="2.1" fill="#7abf7c"/>
<circle cx="56.9" cy="114.4" r="2.1" fill="#fdbe3e"/>
<circle cx="65.9" cy="116.7" r="2.1" fill="#b8bd63"/>
<circle cx="42.2" cy="95.3" r="2.1" fill="#adbe68"/>
<circle cx="46.2" cy="103.2" r="2.1" fill="#18b1b2"/>
<circle cx="42.2" cy="99.8" r="2.1" fill="#fdbe3e"/>
<circle cx="50.7" cy="97.5" r="2.1" fill="#7abf7c"/>
<circle cx="51.8" cy="107.7" r="2.1" fill="#b8bd63"/>
<circle cx="53.5" cy="109.9" r="2.1" fill="#f6ba46"/>
<circle cx="45.0" cy="88.5" r="2.1" fill="#7abf7c"/>
<circle cx="42.2" cy="91.9" r="2.1" fill="#7abf7c"/>
<circle cx="52.9" cy="89.4" r="2.1" fill="#0cadbb"/>
<circle cx="60.2" cy="88.5" r="2.1" fill="#0cadbb"/>
<circle cx="69.2" cy="93.6" r="2.1" fill="#18b1b2"/>
<circle cx="42.8" cy="103.2" r="2.1" fill="#0cadbb"/>
<circle cx="43.4" cy="108.3" r="2.1" fill="#06a0cd"/>
<rect x="40.4" y="18.3" width="200.00" height="146.20" fill="none" stroke="#505050" stroke-width="1"/>
<line x1="40.40" y1="164.5" x2="40.40" y2="162.3" stroke="#505050" stroke-width="1"/>
<line x1="40.40" y1="18.3" x2="40.40" y2="20.5" stroke="#505050" stroke-width="1"/>
<text x="40.40" y="180.10" text-anchor="middle" font-size="10.3">0</text>
<line x1="90.40" y1="164.5" x2="90.40" y2="162.3" stroke="#505050" stroke-width="1"/>
<line x1="90.40" y1="18.3" x2="90.40" y2="20.5" stroke="#505050" stroke-width="1"/>
<text x="90.40" y="180.10" text-anchor="middle" font-size="10.3">0.1</text>
<line x1="140.40" y1="164.5" x2="140.40" y2="162.3" stroke="#505050" stroke-width="1"/>
<line x1="140.40" y1="18.3" x2="140.40" y2="20.5" stroke="#505050" stroke-width="1"/>
<text x="140.40" y="180.10" text-anchor="middle" font-size="10.3">0.2</text>
<line x1="190.40" y1="164.5" x2="190.40" y2="162.3" stroke="#505050" stroke-width="1"/>
<line x1="190.40" y1="18.3" x2="190.40" y2="20.5" stroke="#505050" stroke-width="1"/>
<text x="190.40" y="180.10" text-anchor="middle" font-size="10.3">0.3</text>
<line x1="240.40" y1="164.5" x2="240.40" y2="162.3" stroke="#505050" stroke-width="1"/>
<line x1="240.40" y1="18.3" x2="240.40" y2="20.5" stroke="#505050" stroke-width="1"/>
<text x="240.40" y="180.10" text-anchor="middle" font-size="10.3">0.4</text>
<line x1="40.4" y1="164.50" x2="42.6" y2="164.50" stroke="#505050" stroke-width="1"/>
<line x1="240.4" y1="164.50" x2="238.20000000000002" y2="164.50" stroke="#505050" stroke-width="1"/>
<text x="34.90" y="168.80" text-anchor="end" font-size="10.3">6</text>
<line x1="40.4" y1="127.95" x2="42.6" y2="127.95" stroke="#505050" stroke-width="1"/>
<line x1="240.4" y1="127.95" x2="238.20000000000002" y2="127.95" stroke="#505050" stroke-width="1"/>
<text x="34.90" y="132.25" text-anchor="end" font-size="10.3">8</text>
<line x1="40.4" y1="91.40" x2="42.6" y2="91.40" stroke="#505050" stroke-width="1"/>
<line x1="240.4" y1="91.40" x2="238.20000000000002" y2="91.40" stroke="#505050" stroke-width="1"/>
<text x="34.90" y="95.70" text-anchor="end" font-size="10.3">10</text>
<line x1="40.4" y1="54.85" x2="42.6" y2="54.85" stroke="#505050" stroke-width="1"/>
<line x1="240.4" y1="54.85" x2="238.20000000000002" y2="54.85" stroke="#505050" stroke-width="1"/>
<text x="34.90" y="59.15" text-anchor="end" font-size="10.3">12</text>
<line x1="40.4" y1="18.30" x2="42.6" y2="18.30" stroke="#505050" stroke-width="1"/>
<line x1="240.4" y1="18.30" x2="238.20000000000002" y2="18.30" stroke="#505050" stroke-width="1"/>
<text x="34.90" y="22.60" text-anchor="end" font-size="10.3">14</text>
<text x="140.40" y="194.60" text-anchor="middle" font-size="11.3">Porosity (v/v)</text>
<text transform="translate(11.60,90.80) rotate(-90)" text-anchor="middle" font-size="11.3" letter-spacing="0.33">P-impedance (km/s g/cm<tspan font-size="8" dy="-5.2">3</tspan><tspan dy="5.2">)</tspan></text>
<line x1="347.60" y1="18.3" x2="347.60" y2="164.5" stroke="#e8e8e8" stroke-width="1"/>
<line x1="397.60" y1="18.3" x2="397.60" y2="164.5" stroke="#e8e8e8" stroke-width="1"/>
<line x1="447.60" y1="18.3" x2="447.60" y2="164.5" stroke="#e8e8e8" stroke-width="1"/>
<line x1="297.6" y1="135.26" x2="497.6" y2="135.26" stroke="#e8e8e8" stroke-width="1"/>
<line x1="297.6" y1="106.02" x2="497.6" y2="106.02" stroke="#e8e8e8" stroke-width="1"/>
<line x1="297.6" y1="76.78" x2="497.6" y2="76.78" stroke="#e8e8e8" stroke-width="1"/>
<line x1="297.6" y1="47.54" x2="497.6" y2="47.54" stroke="#e8e8e8" stroke-width="1"/>
<circle cx="316.4" cy="100.4" r="2.1" fill="#fdbe3e"/>
<circle cx="319.0" cy="100.7" r="2.1" fill="#0cadbb"/>
<circle cx="321.8" cy="100.5" r="2.1" fill="#0cadbb"/>
<circle cx="326.0" cy="101.0" r="2.1" fill="#55bd8e"/>
<circle cx="328.5" cy="100.1" r="2.1" fill="#33b8a1"/>
<circle cx="331.9" cy="101.1" r="2.1" fill="#0cadbb"/>
<circle cx="314.8" cy="104.3" r="2.1" fill="#fdbe3e"/>
<circle cx="317.6" cy="103.7" r="2.1" fill="#fdbe3e"/>
<circle cx="320.1" cy="102.6" r="2.1" fill="#0cadbb"/>
<circle cx="324.2" cy="102.7" r="2.1" fill="#55bd8e"/>
<circle cx="326.9" cy="103.0" r="2.1" fill="#adbe68"/>
<circle cx="330.1" cy="103.4" r="2.1" fill="#adbe68"/>
<circle cx="334.2" cy="104.1" r="2.1" fill="#7abf7c"/>
<circle cx="315.5" cy="106.0" r="2.1" fill="#fdbe3e"/>
<circle cx="319.9" cy="107.3" r="2.1" fill="#fdbe3e"/>
<circle cx="323.0" cy="106.8" r="2.1" fill="#e7b94f"/>
<circle cx="325.5" cy="105.9" r="2.1" fill="#e7b94f"/>
<circle cx="328.8" cy="105.6" r="2.1" fill="#adbe68"/>
<circle cx="333.1" cy="106.2" r="2.1" fill="#7abf7c"/>
<circle cx="336.6" cy="106.2" r="2.1" fill="#7abf7c"/>
<circle cx="314.7" cy="110.0" r="2.1" fill="#fdbe3e"/>
<circle cx="316.4" cy="108.9" r="2.1" fill="#fdbe3e"/>
<circle cx="321.4" cy="109.3" r="2.1" fill="#fdbe3e"/>
<circle cx="325.0" cy="109.2" r="2.1" fill="#e7b94f"/>
<circle cx="326.7" cy="109.6" r="2.1" fill="#88bf77"/>
<circle cx="331.4" cy="109.0" r="2.1" fill="#adbe68"/>
<circle cx="333.6" cy="109.1" r="2.1" fill="#adbe68"/>
<circle cx="338.5" cy="109.8" r="2.1" fill="#adbe68"/>
<circle cx="314.9" cy="111.5" r="2.1" fill="#ffc436"/>
<circle cx="319.5" cy="111.8" r="2.1" fill="#fdbe3e"/>
<circle cx="322.5" cy="112.2" r="2.1" fill="#fdbe3e"/>
<circle cx="325.2" cy="112.7" r="2.1" fill="#7abf7c"/>
<circle cx="328.5" cy="112.6" r="2.1" fill="#55bd8e"/>
<circle cx="331.9" cy="112.2" r="2.1" fill="#55bd8e"/>
<circle cx="335.5" cy="111.9" r="2.1" fill="#adbe68"/>
<circle cx="314.7" cy="115.8" r="2.1" fill="#ffc436"/>
<circle cx="316.9" cy="116.0" r="2.1" fill="#55bd8e"/>
<circle cx="320.2" cy="115.1" r="2.1" fill="#f6ba46"/>
<circle cx="324.7" cy="115.5" r="2.1" fill="#7abf7c"/>
<circle cx="326.8" cy="116.2" r="2.1" fill="#7abf7c"/>
<circle cx="330.4" cy="114.9" r="2.1" fill="#55bd8e"/>
<circle cx="334.8" cy="115.0" r="2.1" fill="#7abf7c"/>
<circle cx="337.3" cy="114.5" r="2.1" fill="#88bf77"/>
<circle cx="311.5" cy="118.4" r="2.1" fill="#fdbe3e"/>
<circle cx="315.1" cy="118.4" r="2.1" fill="#ffc436"/>
<circle cx="318.8" cy="118.2" r="2.1" fill="#55bd8e"/>
<circle cx="323.2" cy="118.2" r="2.1" fill="#fdbe3e"/>
<circle cx="325.9" cy="118.9" r="2.1" fill="#fdbe3e"/>
<circle cx="328.6" cy="117.6" r="2.1" fill="#7abf7c"/>
<circle cx="333.3" cy="118.8" r="2.1" fill="#55bd8e"/>
<circle cx="335.5" cy="117.7" r="2.1" fill="#88bf77"/>
<circle cx="314.3" cy="122.0" r="2.1" fill="#fdbe3e"/>
<circle cx="316.8" cy="122.0" r="2.1" fill="#fdbe3e"/>
<circle cx="321.4" cy="121.4" r="2.1" fill="#fec733"/>
<circle cx="324.0" cy="120.5" r="2.1" fill="#fdbe3e"/>
<circle cx="326.7" cy="122.0" r="2.1" fill="#fdbe3e"/>
<circle cx="330.4" cy="121.6" r="2.1" fill="#7abf7c"/>
<circle cx="333.9" cy="121.8" r="2.1" fill="#55bd8e"/>
<circle cx="337.9" cy="120.8" r="2.1" fill="#06a0cd"/>
<circle cx="314.8" cy="123.7" r="2.1" fill="#f7d826"/>
<circle cx="319.1" cy="124.8" r="2.1" fill="#fec733"/>
<circle cx="322.6" cy="123.8" r="2.1" fill="#fec733"/>
<circle cx="326.6" cy="123.6" r="2.1" fill="#fdbe3e"/>
<circle cx="328.3" cy="123.7" r="2.1" fill="#fdbe3e"/>
<circle cx="332.5" cy="123.4" r="2.1" fill="#55bd8e"/>
<circle cx="335.4" cy="123.9" r="2.1" fill="#7abf7c"/>
<circle cx="314.0" cy="126.5" r="2.1" fill="#f7d826"/>
<circle cx="317.1" cy="127.8" r="2.1" fill="#f7d826"/>
<circle cx="321.6" cy="127.4" r="2.1" fill="#fcce2d"/>
<circle cx="324.4" cy="127.3" r="2.1" fill="#fcce2d"/>
<circle cx="326.9" cy="126.3" r="2.1" fill="#fdbe3e"/>
<circle cx="330.0" cy="127.9" r="2.1" fill="#adbe68"/>
<circle cx="334.7" cy="128.0" r="2.1" fill="#adbe68"/>
<circle cx="318.2" cy="130.2" r="2.1" fill="#f7d826"/>
<circle cx="322.8" cy="130.8" r="2.1" fill="#fcce2d"/>
<circle cx="326.2" cy="130.4" r="2.1" fill="#ffc436"/>
<circle cx="306.7" cy="134.3" r="2.1" fill="#f5e31e"/>
<circle cx="310.3" cy="133.4" r="2.1" fill="#f5e31e"/>
<circle cx="312.4" cy="133.8" r="2.1" fill="#f5e31e"/>
<circle cx="316.2" cy="134.6" r="2.1" fill="#f5e41d"/>
<circle cx="320.2" cy="134.2" r="2.1" fill="#f8d628"/>
<circle cx="307.7" cy="137.6" r="2.1" fill="#f5e31e"/>
<circle cx="310.9" cy="137.4" r="2.1" fill="#f5e31e"/>
<circle cx="314.2" cy="137.2" r="2.1" fill="#f5e31e"/>
<circle cx="318.0" cy="136.7" r="2.1" fill="#f5e31e"/>
<circle cx="322.2" cy="136.0" r="2.1" fill="#fcce2d"/>
<circle cx="324.1" cy="137.6" r="2.1" fill="#fcce2d"/>
<circle cx="306.7" cy="139.0" r="2.1" fill="#f5e31e"/>
<circle cx="310.9" cy="140.5" r="2.1" fill="#f5e31e"/>
<circle cx="312.6" cy="139.6" r="2.1" fill="#f5e31e"/>
<circle cx="315.9" cy="139.4" r="2.1" fill="#f5e31e"/>
<circle cx="320.1" cy="139.1" r="2.1" fill="#f5e31e"/>
<circle cx="323.6" cy="138.9" r="2.1" fill="#fcce2d"/>
<circle cx="325.9" cy="140.3" r="2.1" fill="#fcce2d"/>
<circle cx="308.2" cy="142.5" r="2.1" fill="#f5e31e"/>
<circle cx="311.8" cy="142.6" r="2.1" fill="#f5e31e"/>
<circle cx="314.7" cy="141.8" r="2.1" fill="#f5e31e"/>
<circle cx="318.7" cy="143.5" r="2.1" fill="#f5e31e"/>
<circle cx="322.4" cy="142.9" r="2.1" fill="#f5e31e"/>
<circle cx="324.6" cy="142.4" r="2.1" fill="#f5e31e"/>
<circle cx="317.2" cy="145.5" r="2.1" fill="#f5e31e"/>
<circle cx="319.1" cy="146.1" r="2.1" fill="#f5e31e"/>
<circle cx="323.1" cy="145.5" r="2.1" fill="#f5e31e"/>
<circle cx="326.0" cy="145.4" r="2.1" fill="#f5e31e"/>
<circle cx="418.8" cy="127.8" r="2.1" fill="#2b4bc8"/>
<circle cx="421.4" cy="130.9" r="2.1" fill="#343fb1"/>
<circle cx="424.7" cy="130.8" r="2.1" fill="#046ce0"/>
<circle cx="428.3" cy="130.9" r="2.1" fill="#0267e1"/>
<circle cx="430.3" cy="131.0" r="2.1" fill="#3637a1"/>
<circle cx="434.0" cy="130.8" r="2.1" fill="#352b89"/>
<circle cx="419.3" cy="133.7" r="2.1" fill="#095fdf"/>
<circle cx="421.8" cy="133.6" r="2.1" fill="#1956d8"/>
<circle cx="425.7" cy="132.7" r="2.1" fill="#3341b4"/>
<circle cx="428.6" cy="133.3" r="2.1" fill="#363aa7"/>
<circle cx="432.0" cy="133.2" r="2.1" fill="#3342b7"/>
<circle cx="435.9" cy="133.1" r="2.1" fill="#352d8d"/>
<circle cx="438.3" cy="133.2" r="2.1" fill="#363195"/>
<circle cx="421.7" cy="135.9" r="2.1" fill="#254fce"/>
<circle cx="424.5" cy="136.9" r="2.1" fill="#026ae1"/>
<circle cx="426.6" cy="135.5" r="2.1" fill="#343fb2"/>
<circle cx="431.3" cy="136.7" r="2.1" fill="#36359d"/>
<circle cx="434.3" cy="135.5" r="2.1" fill="#363398"/>
<circle cx="437.2" cy="136.8" r="2.1" fill="#353eaf"/>
<circle cx="441.3" cy="136.7" r="2.1" fill="#352b87"/>
<circle cx="443.4" cy="136.7" r="2.1" fill="#363297"/>
<circle cx="419.4" cy="139.4" r="2.1" fill="#0364e1"/>
<circle cx="422.0" cy="139.2" r="2.1" fill="#117bd9"/>
<circle cx="425.9" cy="139.1" r="2.1" fill="#0265e1"/>
<circle cx="428.8" cy="139.4" r="2.1" fill="#0462e1"/>
<circle cx="432.1" cy="138.6" r="2.1" fill="#363aa7"/>
<circle cx="435.1" cy="139.3" r="2.1" fill="#363195"/>
<circle cx="438.3" cy="138.5" r="2.1" fill="#352b88"/>
<circle cx="441.5" cy="139.2" r="2.1" fill="#36369f"/>
<circle cx="445.7" cy="139.1" r="2.1" fill="#3440b2"/>
<circle cx="420.6" cy="141.1" r="2.1" fill="#0871df"/>
<circle cx="423.3" cy="142.8" r="2.1" fill="#264ecd"/>
<circle cx="426.8" cy="141.5" r="2.1" fill="#056ee0"/>
<circle cx="430.3" cy="142.0" r="2.1" fill="#343eaf"/>
<circle cx="433.3" cy="141.8" r="2.1" fill="#363093"/>
<circle cx="437.1" cy="142.5" r="2.1" fill="#3638a3"/>
<circle cx="439.8" cy="141.6" r="2.1" fill="#363298"/>
<circle cx="443.9" cy="142.7" r="2.1" fill="#363092"/>
<circle cx="447.3" cy="141.8" r="2.1" fill="#363194"/>
<circle cx="435.2" cy="144.3" r="2.1" fill="#362f90"/>
<circle cx="438.5" cy="144.5" r="2.1" fill="#363297"/>
<circle cx="441.5" cy="144.5" r="2.1" fill="#352b89"/>
<circle cx="444.9" cy="145.2" r="2.1" fill="#36339a"/>
<circle cx="449.1" cy="143.8" r="2.1" fill="#352c8b"/>
<circle cx="443.1" cy="146.9" r="2.1" fill="#353cab"/>
<circle cx="447.0" cy="147.5" r="2.1" fill="#3638a3"/>
<circle cx="403.1" cy="124.3" r="2.1" fill="#0d93d2"/>
<circle cx="407.0" cy="123.1" r="2.1" fill="#127cd8"/>
<circle cx="400.3" cy="128.0" r="2.1" fill="#06a0cd"/>
<circle cx="404.4" cy="127.0" r="2.1" fill="#06a0cd"/>
<circle cx="410.4" cy="127.2" r="2.1" fill="#127cd8"/>
<circle cx="413.9" cy="128.0" r="2.1" fill="#2b4bc7"/>
<circle cx="398.4" cy="130.9" r="2.1" fill="#06a0cd"/>
<circle cx="402.9" cy="131.8" r="2.1" fill="#2b4bc7"/>
<circle cx="406.8" cy="131.8" r="2.1" fill="#2b4bc7"/>
<circle cx="411.3" cy="131.2" r="2.1" fill="#2b4bc7"/>
<circle cx="415.8" cy="131.0" r="2.1" fill="#2b4bc7"/>
<circle cx="401.4" cy="135.3" r="2.1" fill="#0997d1"/>
<circle cx="406.0" cy="135.4" r="2.1" fill="#2b4bc7"/>
<circle cx="409.9" cy="136.2" r="2.1" fill="#0871de"/>
<circle cx="414.6" cy="134.8" r="2.1" fill="#0d75dc"/>
<circle cx="299.8" cy="45.4" r="2.1" fill="#0cadbb"/>
<circle cx="303.5" cy="47.9" r="2.1" fill="#07aac1"/>
<circle cx="316.5" cy="47.9" r="2.1" fill="#0a72de"/>
<circle cx="321.2" cy="52.6" r="2.1" fill="#0860df"/>
<circle cx="300.0" cy="58.8" r="2.1" fill="#0cadbb"/>
<circle cx="300.6" cy="61.7" r="2.1" fill="#0cadbb"/>
<circle cx="303.5" cy="60.8" r="2.1" fill="#18b1b2"/>
<circle cx="315.6" cy="57.9" r="2.1" fill="#06a0cd"/>
<circle cx="310.0" cy="63.6" r="2.1" fill="#06a0cd"/>
<circle cx="300.6" cy="65.4" r="2.1" fill="#07aac1"/>
<circle cx="332.2" cy="62.7" r="2.1" fill="#2b4bc7"/>
<circle cx="353.5" cy="61.1" r="2.1" fill="#0a72de"/>
<circle cx="341.5" cy="72.1" r="2.1" fill="#036ae1"/>
<circle cx="307.2" cy="76.7" r="2.1" fill="#6bbf83"/>
<circle cx="316.5" cy="78.3" r="2.1" fill="#06a0cd"/>
<circle cx="327.8" cy="79.6" r="2.1" fill="#06a0cd"/>
<circle cx="325.0" cy="83.3" r="2.1" fill="#0d93d2"/>
<circle cx="327.2" cy="83.3" r="2.1" fill="#55bd8e"/>
<circle cx="331.5" cy="85.8" r="2.1" fill="#0f77db"/>
<circle cx="341.5" cy="86.3" r="2.1" fill="#55bd8e"/>
<circle cx="347.2" cy="83.8" r="2.1" fill="#06a0cd"/>
<circle cx="316.5" cy="84.8" r="2.1" fill="#55bd8e"/>
<circle cx="313.8" cy="86.3" r="2.1" fill="#33b8a1"/>
<circle cx="310.0" cy="87.1" r="2.1" fill="#adbe68"/>
<circle cx="374.0" cy="77.6" r="2.1" fill="#0f77db"/>
<circle cx="369.4" cy="82.1" r="2.1" fill="#0a72de"/>
<circle cx="381.5" cy="84.2" r="2.1" fill="#079cd0"/>
<circle cx="390.9" cy="87.1" r="2.1" fill="#066edf"/>
<circle cx="359.4" cy="88.6" r="2.1" fill="#07aac1"/>
<circle cx="357.2" cy="92.3" r="2.1" fill="#0cadbb"/>
<circle cx="373.1" cy="90.4" r="2.1" fill="#06a6c6"/>
<circle cx="389.0" cy="91.3" r="2.1" fill="#1484d4"/>
<circle cx="357.2" cy="95.4" r="2.1" fill="#1484d4"/>
<circle cx="310.0" cy="87.6" r="2.1" fill="#9bbf6f"/>
<circle cx="314.1" cy="86.8" r="2.1" fill="#55bd8e"/>
<circle cx="313.4" cy="89.4" r="2.1" fill="#e7b94f"/>
<circle cx="317.5" cy="89.8" r="2.1" fill="#f6ba46"/>
<circle cx="321.2" cy="90.6" r="2.1" fill="#55bd8e"/>
<circle cx="317.5" cy="93.2" r="2.1" fill="#0cadbb"/>
<circle cx="321.2" cy="94.3" r="2.1" fill="#7abf7c"/>
<circle cx="313.8" cy="93.6" r="2.1" fill="#b8bd63"/>
<circle cx="314.1" cy="97.3" r="2.1" fill="#55bd8e"/>
<circle cx="315.2" cy="95.8" r="2.1" fill="#55bd8e"/>
<circle cx="310.0" cy="95.1" r="2.1" fill="#0cadbb"/>
<circle cx="325.8" cy="94.3" r="2.1" fill="#55bd8e"/>
<circle cx="324.2" cy="97.3" r="2.1" fill="#0d93d2"/>
<circle cx="326.5" cy="99.2" r="2.1" fill="#33b8a1"/>
<circle cx="331.8" cy="90.6" r="2.1" fill="#0cadbb"/>
<circle cx="333.2" cy="93.6" r="2.1" fill="#0cadbb"/>
<circle cx="331.8" cy="97.3" r="2.1" fill="#0cadbb"/>
<circle cx="334.0" cy="98.4" r="2.1" fill="#0cadbb"/>
<circle cx="302.9" cy="95.8" r="2.1" fill="#7abf7c"/>
<circle cx="301.0" cy="96.6" r="2.1" fill="#fdbe3e"/>
<circle cx="300.2" cy="99.2" r="2.1" fill="#fdbe3e"/>
<circle cx="299.1" cy="100.7" r="2.1" fill="#fdbe3e"/>
<circle cx="298.4" cy="99.2" r="2.1" fill="#fdbe3e"/>
<circle cx="299.9" cy="105.2" r="2.1" fill="#b8bd63"/>
<circle cx="301.0" cy="108.2" r="2.1" fill="#f7d826"/>
<circle cx="299.1" cy="109.3" r="2.1" fill="#fcce2d"/>
<circle cx="299.5" cy="111.2" r="2.1" fill="#fcce2d"/>
<circle cx="308.1" cy="109.7" r="2.1" fill="#7abf7c"/>
<circle cx="317.5" cy="101.8" r="2.1" fill="#fdbe3e"/>
<circle cx="320.5" cy="100.7" r="2.1" fill="#0cadbb"/>
<circle cx="323.5" cy="101.8" r="2.1" fill="#55bd8e"/>
<circle cx="328.4" cy="104.1" r="2.1" fill="#adbe68"/>
<circle cx="315.2" cy="106.3" r="2.1" fill="#fdbe3e"/>
<circle cx="318.2" cy="105.6" r="2.1" fill="#fdbe3e"/>
<circle cx="307.0" cy="77.3" r="2.1" fill="#6bbf83"/>
<circle cx="314.5" cy="84.6" r="2.1" fill="#33b8a1"/>
<circle cx="310.4" cy="87.9" r="2.1" fill="#9bbf6f"/>
<circle cx="317.8" cy="89.5" r="2.1" fill="#f6ba46"/>
<circle cx="321.0" cy="91.1" r="2.1" fill="#55bd8e"/>
<circle cx="312.9" cy="93.6" r="2.1" fill="#b8bd63"/>
<circle cx="309.6" cy="95.2" r="2.1" fill="#0cadbb"/>
<circle cx="317.8" cy="93.6" r="2.1" fill="#0cadbb"/>
<circle cx="301.5" cy="96.8" r="2.1" fill="#fdbe3e"/>
<circle cx="302.3" cy="96.0" r="2.1" fill="#7abf7c"/>
<circle cx="299.9" cy="100.1" r="2.1" fill="#fdbe3e"/>
<circle cx="299.0" cy="105.8" r="2.1" fill="#b8bd63"/>
<circle cx="299.9" cy="109.8" r="2.1" fill="#fcce2d"/>
<circle cx="309.6" cy="109.8" r="2.1" fill="#7abf7c"/>
<circle cx="311.3" cy="118.8" r="2.1" fill="#fdbe3e"/>
<circle cx="299.9" cy="134.2" r="2.1" fill="#f5ec18"/>
<circle cx="302.3" cy="135.0" r="2.1" fill="#f5ec18"/>
<circle cx="325.0" cy="95.2" r="2.1" fill="#55bd8e"/>
<circle cx="329.1" cy="93.6" r="2.1" fill="#0cadbb"/>
<circle cx="332.4" cy="90.3" r="2.1" fill="#0cadbb"/>
<circle cx="334.0" cy="95.2" r="2.1" fill="#0cadbb"/>
<circle cx="299.4" cy="135.4" r="2.1" fill="#f5ec18"/>
<circle cx="302.6" cy="134.8" r="2.1" fill="#f5ec18"/>
<circle cx="333.7" cy="141.4" r="2.1" fill="#ffc436"/>
<circle cx="339.7" cy="140.3" r="2.1" fill="#ffc436"/>
<circle cx="335.8" cy="132.1" r="2.1" fill="#3fba99"/>
<circle cx="343.5" cy="137.0" r="2.1" fill="#b8bd63"/>
<circle cx="344.0" cy="131.0" r="2.1" fill="#0cadbb"/>
<circle cx="343.0" cy="133.2" r="2.1" fill="#0cadbb"/>
<circle cx="341.8" cy="127.2" r="2.1" fill="#55bd8e"/>
<circle cx="348.4" cy="127.2" r="2.1" fill="#1482d5"/>
<circle cx="351.6" cy="133.2" r="2.1" fill="#fdbe3e"/>
<circle cx="353.8" cy="132.6" r="2.1" fill="#fdbe3e"/>
<circle cx="314.6" cy="128.3" r="2.1" fill="#f7d826"/>
<circle cx="320.0" cy="131.0" r="2.1" fill="#f7d826"/>
<circle cx="326.6" cy="129.9" r="2.1" fill="#ffc436"/>
<circle cx="331.0" cy="131.0" r="2.1" fill="#ffc436"/>
<circle cx="323.3" cy="124.5" r="2.1" fill="#fec733"/>
<circle cx="329.9" cy="124.5" r="2.1" fill="#fdbe3e"/>
<circle cx="336.4" cy="124.5" r="2.1" fill="#7abf7c"/>
<circle cx="340.8" cy="125.6" r="2.1" fill="#55bd8e"/>
<circle cx="341.5" cy="91.8" r="2.1" fill="#1484d4"/>
<circle cx="342.5" cy="94.3" r="2.1" fill="#55bd8e"/>
<circle cx="348.0" cy="93.3" r="2.1" fill="#06a0cd"/>
<circle cx="351.0" cy="92.8" r="2.1" fill="#88bf77"/>
<circle cx="350.5" cy="96.3" r="2.1" fill="#0cadbb"/>
<circle cx="357.5" cy="92.3" r="2.1" fill="#0cadbb"/>
<circle cx="356.5" cy="95.3" r="2.1" fill="#1484d4"/>
<circle cx="359.0" cy="95.3" r="2.1" fill="#1484d4"/>
<circle cx="336.5" cy="96.3" r="2.1" fill="#18b1b2"/>
<circle cx="337.0" cy="101.3" r="2.1" fill="#55bd8e"/>
<circle cx="343.5" cy="98.3" r="2.1" fill="#18b1b2"/>
<circle cx="342.5" cy="101.3" r="2.1" fill="#55bd8e"/>
<circle cx="347.0" cy="100.8" r="2.1" fill="#0cadbb"/>
<circle cx="356.5" cy="99.8" r="2.1" fill="#9bbf6f"/>
<circle cx="355.5" cy="103.8" r="2.1" fill="#9bbf6f"/>
<circle cx="359.0" cy="101.8" r="2.1" fill="#0cadbb"/>
<circle cx="364.5" cy="102.3" r="2.1" fill="#1484d4"/>
<circle cx="367.5" cy="101.8" r="2.1" fill="#0cadbb"/>
<circle cx="370.0" cy="100.8" r="2.1" fill="#127cd8"/>
<circle cx="372.2" cy="100.8" r="2.1" fill="#127cd8"/>
<circle cx="376.5" cy="103.3" r="2.1" fill="#3342b7"/>
<circle cx="380.5" cy="103.8" r="2.1" fill="#3342b7"/>
<circle cx="383.0" cy="105.3" r="2.1" fill="#2b4bc7"/>
<circle cx="362.0" cy="104.3" r="2.1" fill="#0cadbb"/>
<circle cx="362.0" cy="107.3" r="2.1" fill="#0cadbb"/>
<circle cx="372.5" cy="105.3" r="2.1" fill="#07aac1"/>
<circle cx="341.5" cy="105.3" r="2.1" fill="#0f77db"/>
<circle cx="336.0" cy="106.8" r="2.1" fill="#7abf7c"/>
<circle cx="338.5" cy="110.3" r="2.1" fill="#adbe68"/>
<circle cx="347.0" cy="106.8" r="2.1" fill="#55bd8e"/>
<circle cx="350.0" cy="108.8" r="2.1" fill="#0cadbb"/>
<circle cx="353.0" cy="108.3" r="2.1" fill="#0cadbb"/>
<circle cx="357.5" cy="108.3" r="2.1" fill="#0cadbb"/>
<circle cx="367.0" cy="109.3" r="2.1" fill="#0cadbb"/>
<circle cx="368.5" cy="106.3" r="2.1" fill="#0cadbb"/>
<circle cx="363.0" cy="111.3" r="2.1" fill="#0cadbb"/>
<circle cx="370.5" cy="109.8" r="2.1" fill="#0cadbb"/>
<circle cx="375.0" cy="109.3" r="2.1" fill="#0cadbb"/>
<circle cx="380.0" cy="111.3" r="2.1" fill="#07aac1"/>
<circle cx="383.0" cy="110.3" r="2.1" fill="#1b55d7"/>
<circle cx="362.5" cy="113.8" r="2.1" fill="#0f77db"/>
<circle cx="366.0" cy="114.8" r="2.1" fill="#0f77db"/>
<circle cx="342.5" cy="114.3" r="2.1" fill="#55bd8e"/>
<circle cx="348.0" cy="113.8" r="2.1" fill="#0f77db"/>
<circle cx="352.5" cy="113.8" r="2.1" fill="#55bd8e"/>
<circle cx="369.5" cy="112.8" r="2.1" fill="#55bd8e"/>
<circle cx="373.0" cy="115.3" r="2.1" fill="#55bd8e"/>
<circle cx="376.0" cy="114.3" r="2.1" fill="#55bd8e"/>
<circle cx="378.5" cy="113.8" r="2.1" fill="#07aac1"/>
<circle cx="382.0" cy="113.3" r="2.1" fill="#127cd8"/>
<circle cx="359.0" cy="117.3" r="2.1" fill="#0cadbb"/>
<circle cx="362.0" cy="117.8" r="2.1" fill="#55bd8e"/>
<circle cx="363.0" cy="119.8" r="2.1" fill="#55bd8e"/>
<circle cx="378.0" cy="118.3" r="2.1" fill="#18b1b2"/>
<circle cx="383.0" cy="117.3" r="2.1" fill="#18b1b2"/>
<circle cx="336.5" cy="115.3" r="2.1" fill="#88bf77"/>
<circle cx="337.0" cy="119.3" r="2.1" fill="#55bd8e"/>
<circle cx="348.0" cy="117.8" r="2.1" fill="#9bbf6f"/>
<circle cx="350.0" cy="120.8" r="2.1" fill="#9bbf6f"/>
<circle cx="375.0" cy="120.3" r="2.1" fill="#069ece"/>
<circle cx="395.5" cy="99.8" r="2.1" fill="#06a0cd"/>
<circle cx="395.5" cy="104.3" r="2.1" fill="#06a6c6"/>
<circle cx="390.8" cy="106.3" r="2.1" fill="#06a6c6"/>
<circle cx="385.5" cy="106.3" r="2.1" fill="#2b4bc7"/>
<circle cx="381.0" cy="104.3" r="2.1" fill="#3342b7"/>
<circle cx="393.8" cy="109.1" r="2.1" fill="#0cadbb"/>
<circle cx="408.5" cy="109.1" r="2.1" fill="#127cd8"/>
<circle cx="416.8" cy="106.3" r="2.1" fill="#137ed7"/>
<circle cx="383.0" cy="110.3" r="2.1" fill="#1b55d7"/>
<circle cx="386.0" cy="111.8" r="2.1" fill="#0d93d2"/>
<circle cx="396.0" cy="113.8" r="2.1" fill="#118cd2"/>
<circle cx="403.0" cy="115.3" r="2.1" fill="#1484d4"/>
<circle cx="410.0" cy="115.8" r="2.1" fill="#18b1b2"/>
<circle cx="423.0" cy="114.5" r="2.1" fill="#353caa"/>
<circle cx="416.0" cy="116.5" r="2.1" fill="#0f78db"/>
<circle cx="427.0" cy="115.8" r="2.1" fill="#1658d9"/>
<circle cx="347.4" cy="119.7" r="2.1" fill="#9bbf6f"/>
<circle cx="351.0" cy="120.9" r="2.1" fill="#88bf77"/>
<circle cx="357.0" cy="122.1" r="2.1" fill="#6bbf83"/>
<circle cx="345.6" cy="123.9" r="2.1" fill="#88bf77"/>
<circle cx="349.8" cy="124.5" r="2.1" fill="#88bf77"/>
<circle cx="354.0" cy="125.1" r="2.1" fill="#6bbf83"/>
<circle cx="360.0" cy="129.9" r="2.1" fill="#0cadbb"/>
<circle cx="366.0" cy="128.7" r="2.1" fill="#55bd8e"/>
<circle cx="368.4" cy="126.3" r="2.1" fill="#55bd8e"/>
<circle cx="351.6" cy="132.9" r="2.1" fill="#fdbe3e"/>
<circle cx="355.8" cy="132.9" r="2.1" fill="#fdbe3e"/>
<circle cx="357.6" cy="135.9" r="2.1" fill="#fdbe3e"/>
<circle cx="371.4" cy="134.1" r="2.1" fill="#6bbf83"/>
<circle cx="373.2" cy="132.3" r="2.1" fill="#b8bd63"/>
<circle cx="361.8" cy="143.1" r="2.1" fill="#fdbe3e"/>
<circle cx="381.6" cy="138.9" r="2.1" fill="#ffc436"/>
<circle cx="380.4" cy="143.1" r="2.1" fill="#ffc436"/>
<circle cx="345.6" cy="131.7" r="2.1" fill="#0cadbb"/>
<circle cx="348.6" cy="128.1" r="2.1" fill="#079dcf"/>
<circle cx="363.0" cy="124.5" r="2.1" fill="#117ada"/>
<circle cx="373.2" cy="128.1" r="2.1" fill="#b8bd63"/>
<circle cx="377.4" cy="127.5" r="2.1" fill="#0cadbb"/>
<circle cx="381.0" cy="130.5" r="2.1" fill="#1484d4"/>
<circle cx="376.8" cy="131.1" r="2.1" fill="#0cadbb"/>
<circle cx="384.6" cy="126.3" r="2.1" fill="#1b55d7"/>
<circle cx="388.2" cy="132.9" r="2.1" fill="#127cd8"/>
<circle cx="391.2" cy="132.9" r="2.1" fill="#127cd8"/>
<circle cx="392.4" cy="119.7" r="2.1" fill="#0d93d2"/>
<circle cx="377.4" cy="141.3" r="2.1" fill="#ffc436"/>
<circle cx="375.6" cy="120.9" r="2.1" fill="#18b1b2"/>
<circle cx="387.6" cy="123.3" r="2.1" fill="#06a0cd"/>
<circle cx="387.0" cy="129.3" r="2.1" fill="#1b55d7"/>
<circle cx="377.4" cy="138.9" r="2.1" fill="#0cadbb"/>
<circle cx="394.2" cy="141.3" r="2.1" fill="#06a0cd"/>
<circle cx="365.4" cy="123.3" r="2.1" fill="#07aac1"/>
<circle cx="378.0" cy="118.3" r="2.1" fill="#18b1b2"/>
<circle cx="385.0" cy="120.3" r="2.1" fill="#06a0cd"/>
<circle cx="384.0" cy="125.8" r="2.1" fill="#0d75dc"/>
<circle cx="394.5" cy="124.8" r="2.1" fill="#0d93d2"/>
<circle cx="378.0" cy="127.8" r="2.1" fill="#0cadbb"/>
<circle cx="381.5" cy="131.3" r="2.1" fill="#1484d4"/>
<circle cx="389.5" cy="132.8" r="2.1" fill="#127cd8"/>
<circle cx="392.5" cy="133.3" r="2.1" fill="#127cd8"/>
<circle cx="408.0" cy="108.8" r="2.1" fill="#127cd8"/>
<circle cx="422.0" cy="114.8" r="2.1" fill="#2c4ac6"/>
<circle cx="416.0" cy="116.8" r="2.1" fill="#026ae1"/>
<circle cx="399.0" cy="136.3" r="2.1" fill="#036be0"/>
<circle cx="402.0" cy="138.8" r="2.1" fill="#0f8fd2"/>
<circle cx="408.0" cy="134.3" r="2.1" fill="#2b4bc7"/>
<circle cx="413.0" cy="133.3" r="2.1" fill="#2b4bc7"/>
<circle cx="419.0" cy="132.3" r="2.1" fill="#0268e1"/>
<circle cx="423.0" cy="136.3" r="2.1" fill="#0f77db"/>
<circle cx="419.0" cy="140.3" r="2.1" fill="#046de0"/>
<circle cx="416.0" cy="144.8" r="2.1" fill="#1483d5"/>
<circle cx="424.0" cy="144.3" r="2.1" fill="#066fdf"/>
<circle cx="376.0" cy="131.3" r="2.1" fill="#b8bd63"/>
<circle cx="423.4" cy="114.7" r="2.1" fill="#0d76dc"/>
<circle cx="428.9" cy="115.4" r="2.1" fill="#3045bd"/>
<circle cx="421.4" cy="126.4" r="2.1" fill="#353eae"/>
<circle cx="431.0" cy="125.7" r="2.1" fill="#3639a4"/>
<circle cx="428.3" cy="124.3" r="2.1" fill="#0265e1"/>
<circle cx="445.4" cy="136.7" r="2.1" fill="#36369f"/>
<circle cx="452.3" cy="140.1" r="2.1" fill="#353dac"/>
<circle cx="453.0" cy="144.9" r="2.1" fill="#362e8f"/>
<circle cx="448.9" cy="147.0" r="2.1" fill="#353ba8"/>
<circle cx="381.0" cy="110.3" r="2.1" fill="#1b55d7"/>
<circle cx="385.0" cy="111.3" r="2.1" fill="#0d93d2"/>
<circle cx="388.0" cy="113.3" r="2.1" fill="#0d93d2"/>
<circle cx="383.0" cy="115.3" r="2.1" fill="#18b1b2"/>
<circle cx="386.0" cy="116.3" r="2.1" fill="#0d93d2"/>
<circle cx="391.0" cy="114.8" r="2.1" fill="#118cd2"/>
<circle cx="395.0" cy="114.3" r="2.1" fill="#069ece"/>
<circle cx="392.5" cy="119.3" r="2.1" fill="#0d93d2"/>
<circle cx="388.0" cy="122.8" r="2.1" fill="#06a0cd"/>
<circle cx="390.0" cy="122.8" r="2.1" fill="#06a0cd"/>
<circle cx="376.5" cy="120.8" r="2.1" fill="#069ece"/>
<circle cx="393.5" cy="108.8" r="2.1" fill="#0cadbb"/>
<circle cx="387.0" cy="129.3" r="2.1" fill="#1b55d7"/>
<circle cx="403.0" cy="115.3" r="2.1" fill="#1484d4"/>
<circle cx="410.0" cy="116.3" r="2.1" fill="#127cd8"/>
<circle cx="405.0" cy="118.3" r="2.1" fill="#0d93d2"/>
<circle cx="407.0" cy="122.3" r="2.1" fill="#0d93d2"/>
<circle cx="410.0" cy="122.3" r="2.1" fill="#1484d4"/>
<circle cx="413.0" cy="120.3" r="2.1" fill="#1484d4"/>
<circle cx="417.0" cy="118.3" r="2.1" fill="#118cd2"/>
<circle cx="415.0" cy="123.3" r="2.1" fill="#1484d4"/>
<circle cx="414.0" cy="126.3" r="2.1" fill="#1484d4"/>
<circle cx="416.0" cy="127.3" r="2.1" fill="#069ece"/>
<circle cx="402.0" cy="128.8" r="2.1" fill="#06a0cd"/>
<circle cx="406.0" cy="131.8" r="2.1" fill="#2b4bc7"/>
<circle cx="415.0" cy="137.3" r="2.1" fill="#07aac1"/>
<circle cx="424.0" cy="122.3" r="2.1" fill="#07aac1"/>
<circle cx="377.5" cy="138.3" r="2.1" fill="#0cadbb"/>
<circle cx="395.5" cy="141.3" r="2.1" fill="#06a0cd"/>
<circle cx="408.5" cy="141.3" r="2.1" fill="#1484d4"/>
<circle cx="378.5" cy="113.8" r="2.1" fill="#07aac1"/>
<circle cx="381.5" cy="138.8" r="2.1" fill="#ffc436"/>
<circle cx="380.5" cy="143.3" r="2.1" fill="#ffc436"/>
<circle cx="385.0" cy="107.3" r="2.1" fill="#1b55d7"/>
<circle cx="425.5" cy="120.9" r="2.1" fill="#07aac1"/>
<circle cx="429.6" cy="122.7" r="2.1" fill="#118cd2"/>
<circle cx="424.8" cy="122.9" r="2.1" fill="#07aac1"/>
<rect x="297.6" y="18.3" width="200.00" height="146.20" fill="none" stroke="#505050" stroke-width="1"/>
<line x1="297.60" y1="164.5" x2="297.60" y2="162.3" stroke="#505050" stroke-width="1"/>
<line x1="297.60" y1="18.3" x2="297.60" y2="20.5" stroke="#505050" stroke-width="1"/>
<text x="297.60" y="180.10" text-anchor="middle" font-size="10.3">0</text>
<line x1="347.60" y1="164.5" x2="347.60" y2="162.3" stroke="#505050" stroke-width="1"/>
<line x1="347.60" y1="18.3" x2="347.60" y2="20.5" stroke="#505050" stroke-width="1"/>
<text x="347.60" y="180.10" text-anchor="middle" font-size="10.3">0.1</text>
<line x1="397.60" y1="164.5" x2="397.60" y2="162.3" stroke="#505050" stroke-width="1"/>
<line x1="397.60" y1="18.3" x2="397.60" y2="20.5" stroke="#505050" stroke-width="1"/>
<text x="397.60" y="180.10" text-anchor="middle" font-size="10.3">0.2</text>
<line x1="447.60" y1="164.5" x2="447.60" y2="162.3" stroke="#505050" stroke-width="1"/>
<line x1="447.60" y1="18.3" x2="447.60" y2="20.5" stroke="#505050" stroke-width="1"/>
<text x="447.60" y="180.10" text-anchor="middle" font-size="10.3">0.3</text>
<line x1="497.60" y1="164.5" x2="497.60" y2="162.3" stroke="#505050" stroke-width="1"/>
<line x1="497.60" y1="18.3" x2="497.60" y2="20.5" stroke="#505050" stroke-width="1"/>
<text x="497.60" y="180.10" text-anchor="middle" font-size="10.3">0.4</text>
<line x1="297.6" y1="164.50" x2="299.8" y2="164.50" stroke="#505050" stroke-width="1"/>
<line x1="497.6" y1="164.50" x2="495.40000000000003" y2="164.50" stroke="#505050" stroke-width="1"/>
<text x="292.10" y="168.80" text-anchor="end" font-size="10.3">3</text>
<line x1="297.6" y1="135.26" x2="299.8" y2="135.26" stroke="#505050" stroke-width="1"/>
<line x1="497.6" y1="135.26" x2="495.40000000000003" y2="135.26" stroke="#505050" stroke-width="1"/>
<text x="292.10" y="139.56" text-anchor="end" font-size="10.3">4</text>
<line x1="297.6" y1="106.02" x2="299.8" y2="106.02" stroke="#505050" stroke-width="1"/>
<line x1="497.6" y1="106.02" x2="495.40000000000003" y2="106.02" stroke="#505050" stroke-width="1"/>
<text x="292.10" y="110.32" text-anchor="end" font-size="10.3">5</text>
<line x1="297.6" y1="76.78" x2="299.8" y2="76.78" stroke="#505050" stroke-width="1"/>
<line x1="497.6" y1="76.78" x2="495.40000000000003" y2="76.78" stroke="#505050" stroke-width="1"/>
<text x="292.10" y="81.08" text-anchor="end" font-size="10.3">6</text>
<line x1="297.6" y1="47.54" x2="299.8" y2="47.54" stroke="#505050" stroke-width="1"/>
<line x1="497.6" y1="47.54" x2="495.40000000000003" y2="47.54" stroke="#505050" stroke-width="1"/>
<text x="292.10" y="51.84" text-anchor="end" font-size="10.3">7</text>
<line x1="297.6" y1="18.30" x2="299.8" y2="18.30" stroke="#505050" stroke-width="1"/>
<line x1="497.6" y1="18.30" x2="495.40000000000003" y2="18.30" stroke="#505050" stroke-width="1"/>
<text x="292.10" y="22.60" text-anchor="end" font-size="10.3">8</text>
<text x="397.60" y="194.60" text-anchor="middle" font-size="11.3">Porosity (v/v)</text>
<text transform="translate(274.10,90.80) rotate(-90)" text-anchor="middle" font-size="11.3" letter-spacing="0.33">S-impedance (km/s g/cm<tspan font-size="8" dy="-5.2">3</tspan><tspan dy="5.2">)</tspan></text>
<line x1="90.40" y1="221.0" x2="90.40" y2="367.2" stroke="#e8e8e8" stroke-width="1"/>
<line x1="140.40" y1="221.0" x2="140.40" y2="367.2" stroke="#e8e8e8" stroke-width="1"/>
<line x1="190.40" y1="221.0" x2="190.40" y2="367.2" stroke="#e8e8e8" stroke-width="1"/>
<line x1="40.4" y1="330.65" x2="240.4" y2="330.65" stroke="#e8e8e8" stroke-width="1"/>
<line x1="40.4" y1="294.10" x2="240.4" y2="294.10" stroke="#e8e8e8" stroke-width="1"/>
<line x1="40.4" y1="257.55" x2="240.4" y2="257.55" stroke="#e8e8e8" stroke-width="1"/>
<circle cx="61.4" cy="302.1" r="2.1" fill="#000000"/>
<circle cx="65.8" cy="302.7" r="2.1" fill="#000000"/>
<circle cx="68.9" cy="301.4" r="2.1" fill="#000000"/>
<circle cx="74.3" cy="302.1" r="2.1" fill="#000000"/>
<circle cx="54.8" cy="306.6" r="2.1" fill="#000000"/>
<circle cx="60.1" cy="304.9" r="2.1" fill="#000000"/>
<circle cx="62.6" cy="305.8" r="2.1" fill="#000000"/>
<circle cx="68.3" cy="305.6" r="2.1" fill="#000000"/>
<circle cx="71.1" cy="305.6" r="2.1" fill="#000000"/>
<circle cx="74.9" cy="305.3" r="2.1" fill="#000000"/>
<circle cx="79.7" cy="305.8" r="2.1" fill="#000000"/>
<circle cx="83.5" cy="305.3" r="2.1" fill="#000000"/>
<circle cx="52.7" cy="309.3" r="2.1" fill="#000000"/>
<circle cx="56.9" cy="308.5" r="2.1" fill="#000000"/>
<circle cx="62.0" cy="309.4" r="2.1" fill="#000000"/>
<circle cx="65.8" cy="308.8" r="2.1" fill="#000000"/>
<circle cx="70.5" cy="310.0" r="2.1" fill="#000000"/>
<circle cx="73.0" cy="309.0" r="2.1" fill="#000000"/>
<circle cx="78.2" cy="309.7" r="2.1" fill="#000000"/>
<circle cx="82.7" cy="309.2" r="2.1" fill="#000000"/>
<circle cx="55.8" cy="313.2" r="2.1" fill="#000000"/>
<circle cx="59.0" cy="313.1" r="2.1" fill="#000000"/>
<circle cx="64.1" cy="313.5" r="2.1" fill="#000000"/>
<circle cx="67.6" cy="313.1" r="2.1" fill="#000000"/>
<circle cx="70.8" cy="312.4" r="2.1" fill="#000000"/>
<circle cx="76.3" cy="312.7" r="2.1" fill="#000000"/>
<circle cx="79.3" cy="313.0" r="2.1" fill="#000000"/>
<circle cx="61.4" cy="316.3" r="2.1" fill="#000000"/>
<circle cx="65.5" cy="315.6" r="2.1" fill="#000000"/>
<circle cx="74.6" cy="316.6" r="2.1" fill="#000000"/>
<circle cx="77.6" cy="315.9" r="2.1" fill="#000000"/>
<circle cx="50.0" cy="325.0" r="2.1" fill="#000000"/>
<circle cx="56.8" cy="324.6" r="2.1" fill="#000000"/>
<circle cx="60.0" cy="323.9" r="2.1" fill="#000000"/>
<circle cx="63.4" cy="324.4" r="2.1" fill="#000000"/>
<circle cx="51.8" cy="327.3" r="2.1" fill="#000000"/>
<circle cx="54.4" cy="326.8" r="2.1" fill="#000000"/>
<circle cx="57.1" cy="326.4" r="2.1" fill="#000000"/>
<circle cx="61.4" cy="326.9" r="2.1" fill="#000000"/>
<circle cx="64.7" cy="328.0" r="2.1" fill="#000000"/>
<circle cx="68.5" cy="327.4" r="2.1" fill="#000000"/>
<circle cx="71.5" cy="326.4" r="2.1" fill="#000000"/>
<circle cx="48.9" cy="329.6" r="2.1" fill="#000000"/>
<circle cx="52.7" cy="331.2" r="2.1" fill="#000000"/>
<circle cx="56.5" cy="329.7" r="2.1" fill="#000000"/>
<circle cx="60.4" cy="330.8" r="2.1" fill="#000000"/>
<circle cx="63.6" cy="331.0" r="2.1" fill="#000000"/>
<circle cx="67.2" cy="330.8" r="2.1" fill="#000000"/>
<circle cx="69.9" cy="331.2" r="2.1" fill="#000000"/>
<circle cx="74.5" cy="329.7" r="2.1" fill="#000000"/>
<circle cx="51.4" cy="333.7" r="2.1" fill="#000000"/>
<circle cx="54.4" cy="333.4" r="2.1" fill="#000000"/>
<circle cx="57.9" cy="334.1" r="2.1" fill="#000000"/>
<circle cx="61.5" cy="333.9" r="2.1" fill="#000000"/>
<circle cx="64.7" cy="334.0" r="2.1" fill="#000000"/>
<circle cx="69.2" cy="333.3" r="2.1" fill="#000000"/>
<circle cx="72.1" cy="334.1" r="2.1" fill="#000000"/>
<circle cx="56.6" cy="335.8" r="2.1" fill="#000000"/>
<circle cx="60.4" cy="336.0" r="2.1" fill="#000000"/>
<circle cx="63.9" cy="336.0" r="2.1" fill="#000000"/>
<circle cx="67.5" cy="336.8" r="2.1" fill="#000000"/>
<circle cx="70.2" cy="336.4" r="2.1" fill="#000000"/>
<circle cx="135.7" cy="337.8" r="2.1" fill="#fdbd6c"/>
<circle cx="139.4" cy="337.9" r="2.1" fill="#fdbd6c"/>
<circle cx="138.3" cy="341.4" r="2.1" fill="#fdbd6c"/>
<circle cx="141.1" cy="341.2" r="2.1" fill="#fdbd6c"/>
<circle cx="144.6" cy="341.4" r="2.1" fill="#fdbd6c"/>
<circle cx="148.8" cy="339.9" r="2.1" fill="#fdbd6c"/>
<circle cx="150.8" cy="340.1" r="2.1" fill="#fdbd6c"/>
<circle cx="168.7" cy="341.4" r="2.1" fill="#fdbd6c"/>
<circle cx="172.2" cy="341.4" r="2.1" fill="#fdbd6c"/>
<circle cx="136.9" cy="343.7" r="2.1" fill="#fdbd6c"/>
<circle cx="140.0" cy="343.1" r="2.1" fill="#fdbd6c"/>
<circle cx="143.6" cy="343.7" r="2.1" fill="#fdbd6c"/>
<circle cx="146.0" cy="342.8" r="2.1" fill="#fdbd6c"/>
<circle cx="150.4" cy="344.5" r="2.1" fill="#fdbd6c"/>
<circle cx="152.5" cy="344.2" r="2.1" fill="#fdbd6c"/>
<circle cx="156.4" cy="343.0" r="2.1" fill="#fdbd6c"/>
<circle cx="159.6" cy="344.1" r="2.1" fill="#fdbd6c"/>
<circle cx="164.1" cy="342.8" r="2.1" fill="#fdbd6c"/>
<circle cx="167.0" cy="342.8" r="2.1" fill="#fdbd6c"/>
<circle cx="170.6" cy="343.3" r="2.1" fill="#fdbd6c"/>
<circle cx="174.3" cy="344.5" r="2.1" fill="#fdbd6c"/>
<circle cx="177.0" cy="344.5" r="2.1" fill="#fdbd6c"/>
<circle cx="137.4" cy="346.4" r="2.1" fill="#fdbd6c"/>
<circle cx="141.5" cy="346.0" r="2.1" fill="#fdbd6c"/>
<circle cx="143.9" cy="347.2" r="2.1" fill="#fdbd6c"/>
<circle cx="147.8" cy="347.4" r="2.1" fill="#fdbd6c"/>
<circle cx="152.2" cy="346.4" r="2.1" fill="#fdbd6c"/>
<circle cx="154.8" cy="346.6" r="2.1" fill="#fdbd6c"/>
<circle cx="158.6" cy="346.7" r="2.1" fill="#fdbd6c"/>
<circle cx="161.8" cy="346.8" r="2.1" fill="#fdbd6c"/>
<circle cx="165.9" cy="346.6" r="2.1" fill="#fdbd6c"/>
<circle cx="168.4" cy="347.0" r="2.1" fill="#fdbd6c"/>
<circle cx="171.4" cy="346.2" r="2.1" fill="#fdbd6c"/>
<circle cx="176.2" cy="346.6" r="2.1" fill="#fdbd6c"/>
<circle cx="178.8" cy="345.7" r="2.1" fill="#fdbd6c"/>
<circle cx="139.8" cy="348.7" r="2.1" fill="#fdbd6c"/>
<circle cx="143.2" cy="349.5" r="2.1" fill="#fdbd6c"/>
<circle cx="146.7" cy="349.3" r="2.1" fill="#fdbd6c"/>
<circle cx="150.2" cy="350.0" r="2.1" fill="#fdbd6c"/>
<circle cx="152.3" cy="348.7" r="2.1" fill="#fdbd6c"/>
<circle cx="156.9" cy="350.4" r="2.1" fill="#fdbd6c"/>
<circle cx="159.6" cy="349.5" r="2.1" fill="#fdbd6c"/>
<circle cx="163.6" cy="349.2" r="2.1" fill="#fdbd6c"/>
<circle cx="166.6" cy="349.2" r="2.1" fill="#fdbd6c"/>
<circle cx="170.0" cy="349.7" r="2.1" fill="#fdbd6c"/>
<circle cx="173.2" cy="349.3" r="2.1" fill="#fdbd6c"/>
<circle cx="177.5" cy="348.7" r="2.1" fill="#fdbd6c"/>
<circle cx="180.5" cy="350.0" r="2.1" fill="#fdbd6c"/>
<circle cx="145.1" cy="351.8" r="2.1" fill="#fdbd6c"/>
<circle cx="147.8" cy="352.2" r="2.1" fill="#fdbd6c"/>
<circle cx="152.1" cy="352.4" r="2.1" fill="#fdbd6c"/>
<circle cx="155.5" cy="351.9" r="2.1" fill="#fdbd6c"/>
<circle cx="158.0" cy="352.8" r="2.1" fill="#fdbd6c"/>
<circle cx="162.4" cy="352.4" r="2.1" fill="#fdbd6c"/>
<circle cx="164.6" cy="351.8" r="2.1" fill="#fdbd6c"/>
<circle cx="168.6" cy="351.9" r="2.1" fill="#fdbd6c"/>
<circle cx="172.5" cy="353.1" r="2.1" fill="#fdbd6c"/>
<circle cx="174.7" cy="352.1" r="2.1" fill="#fdbd6c"/>
<circle cx="179.3" cy="352.7" r="2.1" fill="#fdbd6c"/>
<circle cx="182.7" cy="352.2" r="2.1" fill="#fdbd6c"/>
<circle cx="150.6" cy="354.8" r="2.1" fill="#fdbd6c"/>
<circle cx="152.3" cy="356.2" r="2.1" fill="#fdbd6c"/>
<circle cx="157.3" cy="356.3" r="2.1" fill="#fdbd6c"/>
<circle cx="159.9" cy="356.3" r="2.1" fill="#fdbd6c"/>
<circle cx="164.2" cy="354.9" r="2.1" fill="#fdbd6c"/>
<circle cx="167.2" cy="356.1" r="2.1" fill="#fdbd6c"/>
<circle cx="170.5" cy="355.5" r="2.1" fill="#fdbd6c"/>
<circle cx="173.2" cy="355.2" r="2.1" fill="#fdbd6c"/>
<circle cx="176.5" cy="354.7" r="2.1" fill="#fdbd6c"/>
<circle cx="180.6" cy="355.1" r="2.1" fill="#fdbd6c"/>
<circle cx="161.9" cy="358.1" r="2.1" fill="#fdbd6c"/>
<circle cx="164.7" cy="359.1" r="2.1" fill="#fdbd6c"/>
<circle cx="168.5" cy="358.9" r="2.1" fill="#fdbd6c"/>
<circle cx="171.6" cy="357.9" r="2.1" fill="#fdbd6c"/>
<circle cx="175.4" cy="359.0" r="2.1" fill="#fdbd6c"/>
<circle cx="178.1" cy="358.9" r="2.1" fill="#fdbd6c"/>
<circle cx="182.9" cy="359.0" r="2.1" fill="#fdbd6c"/>
<circle cx="169.9" cy="361.0" r="2.1" fill="#fdbd6c"/>
<circle cx="173.3" cy="361.6" r="2.1" fill="#fdbd6c"/>
<circle cx="177.2" cy="361.1" r="2.1" fill="#fdbd6c"/>
<circle cx="179.8" cy="361.1" r="2.1" fill="#fdbd6c"/>
<circle cx="59.3" cy="228.3" r="2.1" fill="#a0552b"/>
<circle cx="75.0" cy="234.9" r="2.1" fill="#a0552b"/>
<circle cx="58.5" cy="237.8" r="2.1" fill="#a0552b"/>
<circle cx="46.4" cy="241.5" r="2.1" fill="#a0552b"/>
<circle cx="96.3" cy="242.2" r="2.1" fill="#a0552b"/>
<circle cx="67.7" cy="248.7" r="2.1" fill="#a0552b"/>
<circle cx="74.0" cy="252.3" r="2.1" fill="#a0552b"/>
<circle cx="42.8" cy="251.2" r="2.1" fill="#a0552b"/>
<circle cx="43.2" cy="254.2" r="2.1" fill="#a0552b"/>
<circle cx="52.7" cy="262.6" r="2.1" fill="#a0552b"/>
<circle cx="64.0" cy="261.9" r="2.1" fill="#a0552b"/>
<circle cx="84.3" cy="262.5" r="2.1" fill="#a0552b"/>
<circle cx="84.3" cy="276.3" r="2.1" fill="#a0552b"/>
<circle cx="116.6" cy="241.5" r="2.1" fill="#a0552b"/>
<circle cx="124.2" cy="241.5" r="2.1" fill="#a0552b"/>
<circle cx="107.3" cy="276.3" r="2.1" fill="#fdbd6c"/>
<circle cx="115.8" cy="275.7" r="2.1" fill="#000000"/>
<circle cx="50.0" cy="279.2" r="2.1" fill="#000000"/>
<circle cx="53.0" cy="282.8" r="2.1" fill="#000000"/>
<circle cx="70.2" cy="280.2" r="2.1" fill="#a0552b"/>
<circle cx="75.8" cy="288.2" r="2.1" fill="#000000"/>
<circle cx="45.5" cy="291.2" r="2.1" fill="#a0552b"/>
<circle cx="52.8" cy="292.2" r="2.1" fill="#a0552b"/>
<circle cx="42.5" cy="294.8" r="2.1" fill="#a0552b"/>
<circle cx="56.0" cy="289.5" r="2.1" fill="#000000"/>
<circle cx="62.0" cy="289.0" r="2.1" fill="#000000"/>
<circle cx="60.2" cy="291.2" r="2.1" fill="#a0552b"/>
<circle cx="64.0" cy="290.5" r="2.1" fill="#000000"/>
<circle cx="57.0" cy="294.0" r="2.1" fill="#000000"/>
<circle cx="60.0" cy="295.0" r="2.1" fill="#000000"/>
<circle cx="55.5" cy="296.8" r="2.1" fill="#000000"/>
<circle cx="69.0" cy="293.2" r="2.1" fill="#000000"/>
<circle cx="69.5" cy="296.2" r="2.1" fill="#a0552b"/>
<circle cx="73.0" cy="296.2" r="2.1" fill="#000000"/>
<circle cx="75.5" cy="293.5" r="2.1" fill="#000000"/>
<circle cx="79.0" cy="294.5" r="2.1" fill="#000000"/>
<circle cx="80.0" cy="297.0" r="2.1" fill="#000000"/>
<circle cx="65.0" cy="296.8" r="2.1" fill="#000000"/>
<circle cx="50.8" cy="300.5" r="2.1" fill="#000000"/>
<circle cx="42.5" cy="299.0" r="2.1" fill="#000000"/>
<circle cx="42.5" cy="301.0" r="2.1" fill="#a0552b"/>
<circle cx="43.0" cy="303.0" r="2.1" fill="#000000"/>
<circle cx="46.5" cy="305.0" r="2.1" fill="#000000"/>
<circle cx="42.5" cy="306.2" r="2.1" fill="#a0552b"/>
<circle cx="59.0" cy="300.5" r="2.1" fill="#000000"/>
<circle cx="58.0" cy="303.0" r="2.1" fill="#000000"/>
<circle cx="63.0" cy="302.0" r="2.1" fill="#000000"/>
<circle cx="67.0" cy="301.0" r="2.1" fill="#000000"/>
<circle cx="74.0" cy="302.0" r="2.1" fill="#000000"/>
<circle cx="78.0" cy="303.0" r="2.1" fill="#000000"/>
<circle cx="81.0" cy="305.0" r="2.1" fill="#000000"/>
<circle cx="85.0" cy="306.0" r="2.1" fill="#000000"/>
<circle cx="86.5" cy="303.0" r="2.1" fill="#a0552b"/>
<circle cx="100.0" cy="284.8" r="2.1" fill="#000000"/>
<circle cx="112.0" cy="285.8" r="2.1" fill="#a0552b"/>
<circle cx="89.8" cy="291.2" r="2.1" fill="#a0552b"/>
<circle cx="98.0" cy="295.0" r="2.1" fill="#a0552b"/>
<circle cx="136.0" cy="295.0" r="2.1" fill="#fdbd6c"/>
<circle cx="131.5" cy="298.0" r="2.1" fill="#a0552b"/>
<circle cx="89.8" cy="298.5" r="2.1" fill="#a0552b"/>
<circle cx="102.0" cy="299.8" r="2.1" fill="#a0552b"/>
<circle cx="110.2" cy="301.5" r="2.1" fill="#a0552b"/>
<circle cx="91.0" cy="302.5" r="2.1" fill="#a0552b"/>
<circle cx="92.5" cy="305.0" r="2.1" fill="#a0552b"/>
<circle cx="100.0" cy="305.0" r="2.1" fill="#a0552b"/>
<circle cx="137.0" cy="305.0" r="2.1" fill="#a0552b"/>
<circle cx="133.5" cy="307.8" r="2.1" fill="#a0552b"/>
<circle cx="113.0" cy="309.5" r="2.1" fill="#a0552b"/>
<circle cx="144.5" cy="306.2" r="2.1" fill="#fdbd6c"/>
<circle cx="141.8" cy="312.8" r="2.1" fill="#fdbd6c"/>
<circle cx="138.5" cy="317.5" r="2.1" fill="#a0552b"/>
<circle cx="139.0" cy="321.5" r="2.1" fill="#a0552b"/>
<circle cx="138.5" cy="323.5" r="2.1" fill="#a0552b"/>
<circle cx="158.5" cy="320.0" r="2.1" fill="#fdbd6c"/>
<circle cx="145.5" cy="323.8" r="2.1" fill="#a0552b"/>
<circle cx="142.5" cy="325.0" r="2.1" fill="#fdbd6c"/>
<circle cx="150.5" cy="327.5" r="2.1" fill="#fdbd6c"/>
<circle cx="153.0" cy="326.8" r="2.1" fill="#a0552b"/>
<circle cx="160.2" cy="326.5" r="2.1" fill="#a0552b"/>
<circle cx="158.5" cy="328.0" r="2.1" fill="#fdbd6c"/>
<circle cx="166.5" cy="329.2" r="2.1" fill="#a0552b"/>
<circle cx="168.5" cy="329.2" r="2.1" fill="#a0552b"/>
<circle cx="172.5" cy="330.2" r="2.1" fill="#a0552b"/>
<circle cx="138.5" cy="329.2" r="2.1" fill="#fdbd6c"/>
<circle cx="141.5" cy="334.8" r="2.1" fill="#fdbd6c"/>
<circle cx="145.5" cy="333.5" r="2.1" fill="#fdbd6c"/>
<circle cx="149.0" cy="333.5" r="2.1" fill="#a0552b"/>
<circle cx="152.0" cy="335.0" r="2.1" fill="#a0552b"/>
<circle cx="157.5" cy="332.0" r="2.1" fill="#a0552b"/>
<circle cx="156.5" cy="334.5" r="2.1" fill="#a0552b"/>
<circle cx="158.5" cy="335.0" r="2.1" fill="#a0552b"/>
<circle cx="166.0" cy="334.8" r="2.1" fill="#fdbd6c"/>
<circle cx="171.5" cy="335.8" r="2.1" fill="#fdbd6c"/>
<circle cx="138.5" cy="337.5" r="2.1" fill="#a0552b"/>
<circle cx="142.5" cy="339.0" r="2.1" fill="#fdbd6c"/>
<circle cx="148.0" cy="337.2" r="2.1" fill="#fdbd6c"/>
<circle cx="151.0" cy="339.0" r="2.1" fill="#a0552b"/>
<circle cx="154.0" cy="338.5" r="2.1" fill="#fdbd6c"/>
<circle cx="157.5" cy="338.5" r="2.1" fill="#a0552b"/>
<circle cx="161.5" cy="338.5" r="2.1" fill="#fdbd6c"/>
<circle cx="167.8" cy="338.5" r="2.1" fill="#fdbd6c"/>
<circle cx="55.9" cy="290.9" r="2.1" fill="#000000"/>
<circle cx="63.1" cy="290.9" r="2.1" fill="#000000"/>
<circle cx="68.6" cy="292.7" r="2.1" fill="#000000"/>
<circle cx="75.0" cy="293.6" r="2.1" fill="#000000"/>
<circle cx="79.5" cy="294.1" r="2.1" fill="#000000"/>
<circle cx="56.8" cy="296.4" r="2.1" fill="#000000"/>
<circle cx="64.0" cy="296.4" r="2.1" fill="#000000"/>
<circle cx="72.2" cy="295.9" r="2.1" fill="#000000"/>
<circle cx="77.7" cy="296.4" r="2.1" fill="#000000"/>
<circle cx="50.9" cy="300.4" r="2.1" fill="#000000"/>
<circle cx="57.7" cy="301.3" r="2.1" fill="#000000"/>
<circle cx="63.1" cy="300.0" r="2.1" fill="#000000"/>
<circle cx="74.0" cy="301.8" r="2.1" fill="#000000"/>
<circle cx="79.5" cy="303.6" r="2.1" fill="#000000"/>
<circle cx="46.4" cy="305.0" r="2.1" fill="#000000"/>
<circle cx="54.1" cy="307.2" r="2.1" fill="#000000"/>
<circle cx="59.5" cy="305.4" r="2.1" fill="#000000"/>
<circle cx="67.7" cy="305.0" r="2.1" fill="#000000"/>
<circle cx="75.0" cy="305.4" r="2.1" fill="#000000"/>
<circle cx="81.3" cy="305.4" r="2.1" fill="#000000"/>
<circle cx="85.8" cy="306.3" r="2.1" fill="#000000"/>
<circle cx="51.8" cy="311.3" r="2.1" fill="#000000"/>
<circle cx="58.6" cy="310.9" r="2.1" fill="#000000"/>
<circle cx="65.0" cy="310.9" r="2.1" fill="#000000"/>
<circle cx="71.3" cy="309.1" r="2.1" fill="#000000"/>
<circle cx="78.6" cy="309.5" r="2.1" fill="#000000"/>
<circle cx="89.5" cy="309.1" r="2.1" fill="#000000"/>
<circle cx="93.5" cy="309.5" r="2.1" fill="#000000"/>
<circle cx="53.6" cy="313.6" r="2.1" fill="#000000"/>
<circle cx="61.3" cy="313.6" r="2.1" fill="#000000"/>
<circle cx="66.3" cy="314.0" r="2.1" fill="#000000"/>
<circle cx="57.3" cy="317.2" r="2.1" fill="#000000"/>
<circle cx="65.0" cy="318.1" r="2.1" fill="#000000"/>
<circle cx="75.9" cy="316.3" r="2.1" fill="#000000"/>
<circle cx="80.4" cy="316.3" r="2.1" fill="#000000"/>
<circle cx="86.7" cy="316.3" r="2.1" fill="#000000"/>
<circle cx="92.2" cy="317.2" r="2.1" fill="#000000"/>
<circle cx="72.2" cy="321.8" r="2.1" fill="#000000"/>
<circle cx="77.7" cy="321.8" r="2.1" fill="#000000"/>
<circle cx="83.1" cy="320.9" r="2.1" fill="#000000"/>
<circle cx="87.6" cy="320.9" r="2.1" fill="#000000"/>
<circle cx="52.3" cy="292.3" r="2.1" fill="#a0552b"/>
<circle cx="60.0" cy="291.4" r="2.1" fill="#a0552b"/>
<circle cx="69.5" cy="296.4" r="2.1" fill="#a0552b"/>
<circle cx="89.5" cy="290.9" r="2.1" fill="#a0552b"/>
<circle cx="89.5" cy="299.1" r="2.1" fill="#a0552b"/>
<circle cx="87.6" cy="302.7" r="2.1" fill="#a0552b"/>
<circle cx="92.2" cy="302.7" r="2.1" fill="#a0552b"/>
<circle cx="85.0" cy="313.6" r="2.1" fill="#a0552b"/>
<circle cx="59.1" cy="320.0" r="2.1" fill="#fdbd6c"/>
<circle cx="84.0" cy="309.0" r="2.1" fill="#fdbd6c"/>
<circle cx="42.9" cy="326.2" r="2.1" fill="#000000"/>
<circle cx="45.6" cy="325.1" r="2.1" fill="#000000"/>
<circle cx="41.8" cy="327.8" r="2.1" fill="#000000"/>
<circle cx="77.8" cy="330.0" r="2.1" fill="#000000"/>
<circle cx="81.6" cy="331.0" r="2.1" fill="#000000"/>
<circle cx="86.0" cy="332.2" r="2.1" fill="#000000"/>
<circle cx="87.0" cy="335.4" r="2.1" fill="#000000"/>
<circle cx="78.3" cy="337.0" r="2.1" fill="#000000"/>
<circle cx="82.1" cy="338.7" r="2.1" fill="#000000"/>
<circle cx="86.0" cy="337.6" r="2.1" fill="#000000"/>
<circle cx="85.4" cy="344.1" r="2.1" fill="#fdbd6c"/>
<circle cx="83.2" cy="332.2" r="2.1" fill="#fdbd6c"/>
<circle cx="90.8" cy="328.9" r="2.1" fill="#a0552b"/>
<circle cx="92.5" cy="333.3" r="2.1" fill="#a0552b"/>
<circle cx="81.6" cy="323.4" r="2.1" fill="#000000"/>
<circle cx="90.3" cy="323.4" r="2.1" fill="#000000"/>
<circle cx="96.8" cy="324.5" r="2.1" fill="#000000"/>
<circle cx="49.4" cy="333.3" r="2.1" fill="#000000"/>
<circle cx="57.0" cy="334.8" r="2.1" fill="#000000"/>
<circle cx="61.8" cy="337.6" r="2.1" fill="#000000"/>
<circle cx="66.5" cy="338.6" r="2.1" fill="#000000"/>
<circle cx="70.3" cy="337.6" r="2.1" fill="#000000"/>
<circle cx="74.1" cy="334.3" r="2.1" fill="#000000"/>
<circle cx="77.9" cy="337.1" r="2.1" fill="#000000"/>
<circle cx="77.0" cy="331.9" r="2.1" fill="#000000"/>
<circle cx="81.7" cy="331.0" r="2.1" fill="#000000"/>
<circle cx="82.7" cy="338.6" r="2.1" fill="#000000"/>
<circle cx="86.5" cy="336.7" r="2.1" fill="#000000"/>
<circle cx="87.0" cy="331.9" r="2.1" fill="#000000"/>
<circle cx="86.0" cy="306.0" r="2.1" fill="#000000"/>
<circle cx="89.5" cy="309.0" r="2.1" fill="#000000"/>
<circle cx="93.5" cy="309.5" r="2.1" fill="#000000"/>
<circle cx="95.0" cy="310.0" r="2.1" fill="#000000"/>
<circle cx="100.0" cy="309.5" r="2.1" fill="#000000"/>
<circle cx="100.5" cy="311.5" r="2.1" fill="#000000"/>
<circle cx="105.0" cy="310.0" r="2.1" fill="#000000"/>
<circle cx="109.0" cy="311.5" r="2.1" fill="#000000"/>
<circle cx="121.5" cy="316.0" r="2.1" fill="#000000"/>
<circle cx="87.0" cy="318.5" r="2.1" fill="#000000"/>
<circle cx="90.0" cy="319.0" r="2.1" fill="#000000"/>
<circle cx="94.0" cy="318.0" r="2.1" fill="#000000"/>
<circle cx="98.0" cy="319.0" r="2.1" fill="#000000"/>
<circle cx="88.5" cy="323.0" r="2.1" fill="#000000"/>
<circle cx="92.5" cy="322.0" r="2.1" fill="#000000"/>
<circle cx="96.5" cy="323.5" r="2.1" fill="#000000"/>
<circle cx="105.5" cy="317.0" r="2.1" fill="#000000"/>
<circle cx="111.5" cy="321.5" r="2.1" fill="#000000"/>
<circle cx="104.5" cy="323.5" r="2.1" fill="#000000"/>
<circle cx="95.5" cy="327.0" r="2.1" fill="#000000"/>
<circle cx="99.0" cy="327.5" r="2.1" fill="#000000"/>
<circle cx="101.0" cy="328.5" r="2.1" fill="#000000"/>
<circle cx="115.5" cy="326.5" r="2.1" fill="#000000"/>
<circle cx="114.5" cy="330.0" r="2.1" fill="#000000"/>
<circle cx="110.5" cy="329.0" r="2.1" fill="#000000"/>
<circle cx="106.5" cy="332.0" r="2.1" fill="#000000"/>
<circle cx="96.0" cy="332.0" r="2.1" fill="#000000"/>
<circle cx="100.0" cy="332.0" r="2.1" fill="#000000"/>
<circle cx="103.0" cy="333.0" r="2.1" fill="#000000"/>
<circle cx="113.5" cy="333.0" r="2.1" fill="#000000"/>
<circle cx="86.5" cy="332.5" r="2.1" fill="#000000"/>
<circle cx="86.5" cy="336.5" r="2.1" fill="#000000"/>
<circle cx="106.5" cy="335.5" r="2.1" fill="#000000"/>
<circle cx="90.5" cy="301.5" r="2.1" fill="#a0552b"/>
<circle cx="93.0" cy="305.0" r="2.1" fill="#a0552b"/>
<circle cx="102.0" cy="300.5" r="2.1" fill="#a0552b"/>
<circle cx="110.0" cy="301.5" r="2.1" fill="#a0552b"/>
<circle cx="100.0" cy="305.0" r="2.1" fill="#a0552b"/>
<circle cx="85.5" cy="313.0" r="2.1" fill="#a0552b"/>
<circle cx="106.0" cy="312.5" r="2.1" fill="#a0552b"/>
<circle cx="106.0" cy="315.0" r="2.1" fill="#a0552b"/>
<circle cx="113.0" cy="311.0" r="2.1" fill="#a0552b"/>
<circle cx="116.0" cy="312.0" r="2.1" fill="#a0552b"/>
<circle cx="119.0" cy="312.5" r="2.1" fill="#a0552b"/>
<circle cx="123.0" cy="314.0" r="2.1" fill="#a0552b"/>
<circle cx="102.0" cy="316.0" r="2.1" fill="#a0552b"/>
<circle cx="112.0" cy="316.0" r="2.1" fill="#a0552b"/>
<circle cx="118.0" cy="318.5" r="2.1" fill="#a0552b"/>
<circle cx="116.0" cy="321.0" r="2.1" fill="#a0552b"/>
<circle cx="124.0" cy="320.0" r="2.1" fill="#a0552b"/>
<circle cx="104.5" cy="320.0" r="2.1" fill="#a0552b"/>
<circle cx="109.0" cy="324.5" r="2.1" fill="#a0552b"/>
<circle cx="122.0" cy="323.5" r="2.1" fill="#a0552b"/>
<circle cx="91.0" cy="329.5" r="2.1" fill="#a0552b"/>
<circle cx="92.5" cy="333.0" r="2.1" fill="#a0552b"/>
<circle cx="106.0" cy="328.5" r="2.1" fill="#a0552b"/>
<circle cx="121.0" cy="334.0" r="2.1" fill="#a0552b"/>
<circle cx="116.0" cy="335.5" r="2.1" fill="#a0552b"/>
<circle cx="104.5" cy="337.0" r="2.1" fill="#a0552b"/>
<circle cx="107.5" cy="338.5" r="2.1" fill="#a0552b"/>
<circle cx="118.0" cy="338.5" r="2.1" fill="#a0552b"/>
<circle cx="85.5" cy="310.0" r="2.1" fill="#fdbd6c"/>
<circle cx="107.0" cy="325.5" r="2.1" fill="#fdbd6c"/>
<circle cx="113.0" cy="324.0" r="2.1" fill="#fdbd6c"/>
<circle cx="117.0" cy="330.5" r="2.1" fill="#fdbd6c"/>
<circle cx="120.5" cy="329.0" r="2.1" fill="#fdbd6c"/>
<circle cx="91.5" cy="334.0" r="2.1" fill="#fdbd6c"/>
<circle cx="122.0" cy="337.5" r="2.1" fill="#fdbd6c"/>
<circle cx="124.5" cy="338.5" r="2.1" fill="#fdbd6c"/>
<circle cx="110.6" cy="301.2" r="2.1" fill="#a0552b"/>
<circle cx="131.9" cy="297.5" r="2.1" fill="#a0552b"/>
<circle cx="133.8" cy="307.5" r="2.1" fill="#a0552b"/>
<circle cx="138.1" cy="305.0" r="2.1" fill="#a0552b"/>
<circle cx="113.1" cy="310.6" r="2.1" fill="#a0552b"/>
<circle cx="116.9" cy="311.3" r="2.1" fill="#a0552b"/>
<circle cx="119.4" cy="312.5" r="2.1" fill="#a0552b"/>
<circle cx="122.5" cy="313.8" r="2.1" fill="#a0552b"/>
<circle cx="111.9" cy="316.3" r="2.1" fill="#a0552b"/>
<circle cx="118.1" cy="318.1" r="2.1" fill="#a0552b"/>
<circle cx="115.0" cy="321.3" r="2.1" fill="#a0552b"/>
<circle cx="126.9" cy="318.1" r="2.1" fill="#a0552b"/>
<circle cx="131.9" cy="319.4" r="2.1" fill="#a0552b"/>
<circle cx="138.1" cy="317.5" r="2.1" fill="#a0552b"/>
<circle cx="123.1" cy="321.9" r="2.1" fill="#a0552b"/>
<circle cx="126.3" cy="323.8" r="2.1" fill="#a0552b"/>
<circle cx="129.4" cy="321.9" r="2.1" fill="#a0552b"/>
<circle cx="134.4" cy="321.9" r="2.1" fill="#a0552b"/>
<circle cx="138.8" cy="321.9" r="2.1" fill="#a0552b"/>
<circle cx="125.0" cy="325.6" r="2.1" fill="#a0552b"/>
<circle cx="126.3" cy="331.9" r="2.1" fill="#a0552b"/>
<circle cx="130.0" cy="331.3" r="2.1" fill="#a0552b"/>
<circle cx="130.6" cy="335.0" r="2.1" fill="#a0552b"/>
<circle cx="132.5" cy="338.1" r="2.1" fill="#a0552b"/>
<circle cx="120.6" cy="333.8" r="2.1" fill="#a0552b"/>
<circle cx="115.6" cy="335.6" r="2.1" fill="#a0552b"/>
<circle cx="118.1" cy="338.8" r="2.1" fill="#a0552b"/>
<circle cx="119.4" cy="341.3" r="2.1" fill="#a0552b"/>
<circle cx="137.5" cy="336.9" r="2.1" fill="#a0552b"/>
<circle cx="142.5" cy="338.1" r="2.1" fill="#a0552b"/>
<circle cx="121.3" cy="316.3" r="2.1" fill="#000000"/>
<circle cx="111.3" cy="321.3" r="2.1" fill="#000000"/>
<circle cx="115.6" cy="326.9" r="2.1" fill="#000000"/>
<circle cx="113.8" cy="332.5" r="2.1" fill="#000000"/>
<circle cx="110.6" cy="328.8" r="2.1" fill="#000000"/>
<circle cx="136.3" cy="295.6" r="2.1" fill="#fdbd6c"/>
<circle cx="143.8" cy="306.3" r="2.1" fill="#fdbd6c"/>
<circle cx="141.9" cy="312.5" r="2.1" fill="#fdbd6c"/>
<circle cx="133.1" cy="326.3" r="2.1" fill="#fdbd6c"/>
<circle cx="136.9" cy="328.8" r="2.1" fill="#fdbd6c"/>
<circle cx="142.5" cy="325.0" r="2.1" fill="#fdbd6c"/>
<circle cx="120.6" cy="328.8" r="2.1" fill="#fdbd6c"/>
<circle cx="116.9" cy="330.6" r="2.1" fill="#fdbd6c"/>
<circle cx="135.0" cy="335.0" r="2.1" fill="#fdbd6c"/>
<circle cx="141.3" cy="335.0" r="2.1" fill="#fdbd6c"/>
<circle cx="122.5" cy="337.5" r="2.1" fill="#fdbd6c"/>
<circle cx="126.3" cy="338.8" r="2.1" fill="#fdbd6c"/>
<circle cx="115.0" cy="341.9" r="2.1" fill="#fdbd6c"/>
<circle cx="128.1" cy="341.3" r="2.1" fill="#fdbd6c"/>
<circle cx="135.0" cy="342.5" r="2.1" fill="#fdbd6c"/>
<circle cx="140.0" cy="341.9" r="2.1" fill="#fdbd6c"/>
<circle cx="86.4" cy="336.7" r="2.1" fill="#000000"/>
<circle cx="86.9" cy="331.9" r="2.1" fill="#000000"/>
<circle cx="85.5" cy="344.3" r="2.1" fill="#fdbd6c"/>
<circle cx="92.1" cy="333.3" r="2.1" fill="#a0552b"/>
<circle cx="95.5" cy="331.5" r="2.1" fill="#000000"/>
<circle cx="100.0" cy="332.0" r="2.1" fill="#000000"/>
<circle cx="104.0" cy="332.0" r="2.1" fill="#000000"/>
<circle cx="108.0" cy="331.5" r="2.1" fill="#000000"/>
<circle cx="113.5" cy="333.3" r="2.1" fill="#000000"/>
<circle cx="105.0" cy="337.1" r="2.1" fill="#a0552b"/>
<circle cx="107.8" cy="338.6" r="2.1" fill="#a0552b"/>
<circle cx="106.9" cy="336.2" r="2.1" fill="#000000"/>
<circle cx="104.5" cy="345.2" r="2.1" fill="#000000"/>
<circle cx="105.9" cy="348.1" r="2.1" fill="#000000"/>
<circle cx="115.4" cy="335.7" r="2.1" fill="#a0552b"/>
<circle cx="120.2" cy="333.8" r="2.1" fill="#a0552b"/>
<circle cx="118.3" cy="339.5" r="2.1" fill="#a0552b"/>
<circle cx="119.7" cy="341.9" r="2.1" fill="#a0552b"/>
<circle cx="115.0" cy="341.9" r="2.1" fill="#fdbd6c"/>
<circle cx="116.4" cy="331.0" r="2.1" fill="#fdbd6c"/>
<circle cx="122.1" cy="336.7" r="2.1" fill="#fdbd6c"/>
<circle cx="124.9" cy="339.0" r="2.1" fill="#fdbd6c"/>
<circle cx="126.8" cy="331.9" r="2.1" fill="#a0552b"/>
<circle cx="130.6" cy="335.7" r="2.1" fill="#a0552b"/>
<circle cx="131.6" cy="339.5" r="2.1" fill="#a0552b"/>
<circle cx="129.7" cy="331.4" r="2.1" fill="#fdbd6c"/>
<circle cx="133.0" cy="333.8" r="2.1" fill="#fdbd6c"/>
<circle cx="127.8" cy="341.4" r="2.1" fill="#fdbd6c"/>
<circle cx="133.5" cy="343.3" r="2.1" fill="#fdbd6c"/>
<circle cx="124.0" cy="348.1" r="2.1" fill="#000000"/>
<circle cx="123.0" cy="349.5" r="2.1" fill="#000000"/>
<circle cx="115.9" cy="350.0" r="2.1" fill="#fdbd6c"/>
<circle cx="120.2" cy="353.3" r="2.1" fill="#fdbd6c"/>
<circle cx="129.2" cy="351.4" r="2.1" fill="#a0552b"/>
<circle cx="131.6" cy="352.8" r="2.1" fill="#fdbd6c"/>
<circle cx="134.0" cy="348.1" r="2.1" fill="#fdbd6c"/>
<circle cx="134.3" cy="335.2" r="2.1" fill="#fdbd6c"/>
<circle cx="134.8" cy="343.3" r="2.1" fill="#fdbd6c"/>
<circle cx="134.3" cy="347.6" r="2.1" fill="#fdbd6c"/>
<circle cx="131.9" cy="352.8" r="2.1" fill="#fdbd6c"/>
<circle cx="131.0" cy="336.7" r="2.1" fill="#a0552b"/>
<circle cx="132.4" cy="339.0" r="2.1" fill="#a0552b"/>
<circle cx="131.0" cy="341.4" r="2.1" fill="#a0552b"/>
<circle cx="138.1" cy="337.4" r="2.1" fill="#a0552b"/>
<circle cx="137.1" cy="342.8" r="2.1" fill="#a0552b"/>
<circle cx="141.9" cy="334.8" r="2.1" fill="#fdbd6c"/>
<circle cx="145.2" cy="333.8" r="2.1" fill="#fdbd6c"/>
<circle cx="149.0" cy="333.8" r="2.1" fill="#a0552b"/>
<circle cx="151.9" cy="334.8" r="2.1" fill="#a0552b"/>
<circle cx="155.7" cy="334.3" r="2.1" fill="#a0552b"/>
<circle cx="157.6" cy="332.4" r="2.1" fill="#a0552b"/>
<circle cx="158.5" cy="335.2" r="2.1" fill="#a0552b"/>
<circle cx="156.6" cy="336.2" r="2.1" fill="#a0552b"/>
<circle cx="166.1" cy="334.8" r="2.1" fill="#fdbd6c"/>
<circle cx="171.3" cy="335.7" r="2.1" fill="#fdbd6c"/>
<circle cx="161.4" cy="338.6" r="2.1" fill="#fdbd6c"/>
<circle cx="168.0" cy="339.0" r="2.1" fill="#fdbd6c"/>
<circle cx="171.6" cy="335.9" r="2.1" fill="#fdbd6c"/>
<circle cx="177.3" cy="343.5" r="2.1" fill="#fdbd6c"/>
<circle cx="181.9" cy="350.1" r="2.1" fill="#fdbd6c"/>
<circle cx="183.2" cy="349.4" r="2.1" fill="#fdbd6c"/>
<circle cx="174.0" cy="348.1" r="2.1" fill="#fdbd6c"/>
<circle cx="171.3" cy="352.1" r="2.1" fill="#fdbd6c"/>
<circle cx="175.3" cy="354.7" r="2.1" fill="#fdbd6c"/>
<circle cx="180.6" cy="353.4" r="2.1" fill="#fdbd6c"/>
<circle cx="181.9" cy="357.4" r="2.1" fill="#fdbd6c"/>
<circle cx="178.0" cy="360.0" r="2.1" fill="#fdbd6c"/>
<circle cx="185.9" cy="362.0" r="2.1" fill="#fdbd6c"/>
<circle cx="180.6" cy="362.0" r="2.1" fill="#fdbd6c"/>
<circle cx="171.3" cy="360.0" r="2.1" fill="#fdbd6c"/>
<circle cx="188.5" cy="357.4" r="2.1" fill="#fdbd6c"/>
<circle cx="194.5" cy="359.4" r="2.1" fill="#fdbd6c"/>
<circle cx="189.9" cy="364.7" r="2.1" fill="#fdbd6c"/>
<circle cx="195.8" cy="364.7" r="2.1" fill="#fdbd6c"/>
<circle cx="193.2" cy="366.7" r="2.1" fill="#fdbd6c"/>
<circle cx="150.9" cy="339.5" r="2.1" fill="#a0552b"/>
<circle cx="157.6" cy="339.5" r="2.1" fill="#a0552b"/>
<circle cx="143.8" cy="347.6" r="2.1" fill="#a0552b"/>
<circle cx="153.8" cy="350.4" r="2.1" fill="#a0552b"/>
<circle cx="155.7" cy="351.9" r="2.1" fill="#a0552b"/>
<circle cx="168.0" cy="330.0" r="2.1" fill="#a0552b"/>
<circle cx="172.8" cy="330.5" r="2.1" fill="#a0552b"/>
<circle cx="54.6" cy="289.0" r="2.1" fill="#000000"/>
<circle cx="58.0" cy="290.0" r="2.1" fill="#000000"/>
<circle cx="62.5" cy="289.6" r="2.1" fill="#000000"/>
<circle cx="76.0" cy="288.4" r="2.1" fill="#000000"/>
<circle cx="55.7" cy="294.6" r="2.1" fill="#000000"/>
<circle cx="60.2" cy="294.6" r="2.1" fill="#000000"/>
<circle cx="68.0" cy="293.0" r="2.1" fill="#000000"/>
<circle cx="73.7" cy="293.5" r="2.1" fill="#000000"/>
<circle cx="77.0" cy="294.6" r="2.1" fill="#000000"/>
<circle cx="79.4" cy="295.7" r="2.1" fill="#000000"/>
<circle cx="56.9" cy="298.0" r="2.1" fill="#000000"/>
<circle cx="64.2" cy="296.9" r="2.1" fill="#000000"/>
<circle cx="71.5" cy="296.9" r="2.1" fill="#000000"/>
<circle cx="76.0" cy="298.0" r="2.1" fill="#000000"/>
<circle cx="51.2" cy="300.8" r="2.1" fill="#000000"/>
<circle cx="58.0" cy="301.4" r="2.1" fill="#000000"/>
<circle cx="61.4" cy="302.5" r="2.1" fill="#000000"/>
<circle cx="64.7" cy="302.5" r="2.1" fill="#000000"/>
<circle cx="71.5" cy="301.4" r="2.1" fill="#000000"/>
<circle cx="74.9" cy="302.5" r="2.1" fill="#000000"/>
<circle cx="78.2" cy="303.6" r="2.1" fill="#000000"/>
<circle cx="56.9" cy="317.1" r="2.1" fill="#000000"/>
<circle cx="65.9" cy="319.4" r="2.1" fill="#000000"/>
<circle cx="42.2" cy="298.0" r="2.1" fill="#000000"/>
<circle cx="46.2" cy="305.9" r="2.1" fill="#000000"/>
<circle cx="42.2" cy="302.5" r="2.1" fill="#000000"/>
<circle cx="50.7" cy="300.2" r="2.1" fill="#000000"/>
<circle cx="51.8" cy="310.4" r="2.1" fill="#000000"/>
<circle cx="53.5" cy="312.6" r="2.1" fill="#000000"/>
<circle cx="45.0" cy="291.2" r="2.1" fill="#a0552b"/>
<circle cx="42.2" cy="294.6" r="2.1" fill="#a0552b"/>
<circle cx="52.9" cy="292.1" r="2.1" fill="#a0552b"/>
<circle cx="60.2" cy="291.2" r="2.1" fill="#a0552b"/>
<circle cx="69.2" cy="296.3" r="2.1" fill="#a0552b"/>
<circle cx="42.8" cy="305.9" r="2.1" fill="#a0552b"/>
<circle cx="43.4" cy="311.0" r="2.1" fill="#a0552b"/>
<rect x="40.4" y="221.0" width="200.00" height="146.20" fill="none" stroke="#505050" stroke-width="1"/>
<line x1="40.40" y1="367.2" x2="40.40" y2="365.0" stroke="#505050" stroke-width="1"/>
<line x1="40.40" y1="221.0" x2="40.40" y2="223.2" stroke="#505050" stroke-width="1"/>
<text x="40.40" y="382.80" text-anchor="middle" font-size="10.3">0</text>
<line x1="90.40" y1="367.2" x2="90.40" y2="365.0" stroke="#505050" stroke-width="1"/>
<line x1="90.40" y1="221.0" x2="90.40" y2="223.2" stroke="#505050" stroke-width="1"/>
<text x="90.40" y="382.80" text-anchor="middle" font-size="10.3">0.1</text>
<line x1="140.40" y1="367.2" x2="140.40" y2="365.0" stroke="#505050" stroke-width="1"/>
<line x1="140.40" y1="221.0" x2="140.40" y2="223.2" stroke="#505050" stroke-width="1"/>
<text x="140.40" y="382.80" text-anchor="middle" font-size="10.3">0.2</text>
<line x1="190.40" y1="367.2" x2="190.40" y2="365.0" stroke="#505050" stroke-width="1"/>
<line x1="190.40" y1="221.0" x2="190.40" y2="223.2" stroke="#505050" stroke-width="1"/>
<text x="190.40" y="382.80" text-anchor="middle" font-size="10.3">0.3</text>
<line x1="240.40" y1="367.2" x2="240.40" y2="365.0" stroke="#505050" stroke-width="1"/>
<line x1="240.40" y1="221.0" x2="240.40" y2="223.2" stroke="#505050" stroke-width="1"/>
<text x="240.40" y="382.80" text-anchor="middle" font-size="10.3">0.4</text>
<line x1="40.4" y1="367.20" x2="42.6" y2="367.20" stroke="#505050" stroke-width="1"/>
<line x1="240.4" y1="367.20" x2="238.20000000000002" y2="367.20" stroke="#505050" stroke-width="1"/>
<text x="34.90" y="371.50" text-anchor="end" font-size="10.3">6</text>
<line x1="40.4" y1="330.65" x2="42.6" y2="330.65" stroke="#505050" stroke-width="1"/>
<line x1="240.4" y1="330.65" x2="238.20000000000002" y2="330.65" stroke="#505050" stroke-width="1"/>
<text x="34.90" y="334.95" text-anchor="end" font-size="10.3">8</text>
<line x1="40.4" y1="294.10" x2="42.6" y2="294.10" stroke="#505050" stroke-width="1"/>
<line x1="240.4" y1="294.10" x2="238.20000000000002" y2="294.10" stroke="#505050" stroke-width="1"/>
<text x="34.90" y="298.40" text-anchor="end" font-size="10.3">10</text>
<line x1="40.4" y1="257.55" x2="42.6" y2="257.55" stroke="#505050" stroke-width="1"/>
<line x1="240.4" y1="257.55" x2="238.20000000000002" y2="257.55" stroke="#505050" stroke-width="1"/>
<text x="34.90" y="261.85" text-anchor="end" font-size="10.3">12</text>
<line x1="40.4" y1="221.00" x2="42.6" y2="221.00" stroke="#505050" stroke-width="1"/>
<line x1="240.4" y1="221.00" x2="238.20000000000002" y2="221.00" stroke="#505050" stroke-width="1"/>
<text x="34.90" y="225.30" text-anchor="end" font-size="10.3">14</text>
<text x="140.40" y="397.30" text-anchor="middle" font-size="11.3">Porosity (v/v)</text>
<text transform="translate(11.60,293.50) rotate(-90)" text-anchor="middle" font-size="11.3" letter-spacing="0.33">P-impedance (km/s g/cm<tspan font-size="8" dy="-5.2">3</tspan><tspan dy="5.2">)</tspan></text>
<line x1="347.60" y1="221.0" x2="347.60" y2="367.2" stroke="#e8e8e8" stroke-width="1"/>
<line x1="397.60" y1="221.0" x2="397.60" y2="367.2" stroke="#e8e8e8" stroke-width="1"/>
<line x1="447.60" y1="221.0" x2="447.60" y2="367.2" stroke="#e8e8e8" stroke-width="1"/>
<line x1="297.6" y1="337.96" x2="497.6" y2="337.96" stroke="#e8e8e8" stroke-width="1"/>
<line x1="297.6" y1="308.72" x2="497.6" y2="308.72" stroke="#e8e8e8" stroke-width="1"/>
<line x1="297.6" y1="279.48" x2="497.6" y2="279.48" stroke="#e8e8e8" stroke-width="1"/>
<line x1="297.6" y1="250.24" x2="497.6" y2="250.24" stroke="#e8e8e8" stroke-width="1"/>
<circle cx="316.4" cy="303.1" r="2.1" fill="#000000"/>
<circle cx="319.0" cy="303.4" r="2.1" fill="#000000"/>
<circle cx="321.8" cy="303.2" r="2.1" fill="#000000"/>
<circle cx="326.0" cy="303.7" r="2.1" fill="#000000"/>
<circle cx="328.5" cy="302.8" r="2.1" fill="#000000"/>
<circle cx="331.9" cy="303.8" r="2.1" fill="#000000"/>
<circle cx="314.8" cy="307.0" r="2.1" fill="#000000"/>
<circle cx="317.6" cy="306.4" r="2.1" fill="#000000"/>
<circle cx="320.1" cy="305.3" r="2.1" fill="#000000"/>
<circle cx="324.2" cy="305.4" r="2.1" fill="#000000"/>
<circle cx="326.9" cy="305.7" r="2.1" fill="#000000"/>
<circle cx="330.1" cy="306.1" r="2.1" fill="#000000"/>
<circle cx="334.2" cy="306.8" r="2.1" fill="#000000"/>
<circle cx="315.5" cy="308.7" r="2.1" fill="#000000"/>
<circle cx="319.9" cy="310.0" r="2.1" fill="#000000"/>
<circle cx="323.0" cy="309.5" r="2.1" fill="#000000"/>
<circle cx="325.5" cy="308.6" r="2.1" fill="#000000"/>
<circle cx="328.8" cy="308.3" r="2.1" fill="#000000"/>
<circle cx="333.1" cy="308.9" r="2.1" fill="#000000"/>
<circle cx="336.6" cy="308.9" r="2.1" fill="#000000"/>
<circle cx="314.7" cy="312.7" r="2.1" fill="#000000"/>
<circle cx="316.4" cy="311.6" r="2.1" fill="#000000"/>
<circle cx="321.4" cy="312.0" r="2.1" fill="#000000"/>
<circle cx="325.0" cy="311.9" r="2.1" fill="#000000"/>
<circle cx="326.7" cy="312.3" r="2.1" fill="#000000"/>
<circle cx="331.4" cy="311.7" r="2.1" fill="#000000"/>
<circle cx="333.6" cy="311.8" r="2.1" fill="#000000"/>
<circle cx="338.5" cy="312.5" r="2.1" fill="#000000"/>
<circle cx="314.9" cy="314.2" r="2.1" fill="#000000"/>
<circle cx="319.5" cy="314.5" r="2.1" fill="#000000"/>
<circle cx="322.5" cy="314.9" r="2.1" fill="#000000"/>
<circle cx="325.2" cy="315.4" r="2.1" fill="#000000"/>
<circle cx="328.5" cy="315.3" r="2.1" fill="#000000"/>
<circle cx="331.9" cy="314.9" r="2.1" fill="#000000"/>
<circle cx="335.5" cy="314.6" r="2.1" fill="#000000"/>
<circle cx="314.7" cy="318.5" r="2.1" fill="#000000"/>
<circle cx="316.9" cy="318.7" r="2.1" fill="#000000"/>
<circle cx="320.2" cy="317.8" r="2.1" fill="#000000"/>
<circle cx="324.7" cy="318.2" r="2.1" fill="#000000"/>
<circle cx="326.8" cy="318.9" r="2.1" fill="#000000"/>
<circle cx="330.4" cy="317.6" r="2.1" fill="#000000"/>
<circle cx="334.8" cy="317.7" r="2.1" fill="#000000"/>
<circle cx="337.3" cy="317.2" r="2.1" fill="#000000"/>
<circle cx="311.5" cy="321.1" r="2.1" fill="#000000"/>
<circle cx="315.1" cy="321.1" r="2.1" fill="#000000"/>
<circle cx="318.8" cy="320.9" r="2.1" fill="#000000"/>
<circle cx="323.2" cy="320.9" r="2.1" fill="#000000"/>
<circle cx="325.9" cy="321.6" r="2.1" fill="#000000"/>
<circle cx="328.6" cy="320.3" r="2.1" fill="#000000"/>
<circle cx="333.3" cy="321.5" r="2.1" fill="#000000"/>
<circle cx="335.5" cy="320.4" r="2.1" fill="#000000"/>
<circle cx="314.3" cy="324.7" r="2.1" fill="#000000"/>
<circle cx="316.8" cy="324.7" r="2.1" fill="#000000"/>
<circle cx="321.4" cy="324.1" r="2.1" fill="#000000"/>
<circle cx="324.0" cy="323.2" r="2.1" fill="#000000"/>
<circle cx="326.7" cy="324.7" r="2.1" fill="#000000"/>
<circle cx="330.4" cy="324.3" r="2.1" fill="#000000"/>
<circle cx="333.9" cy="324.5" r="2.1" fill="#000000"/>
<circle cx="337.9" cy="323.5" r="2.1" fill="#000000"/>
<circle cx="314.8" cy="326.4" r="2.1" fill="#000000"/>
<circle cx="319.1" cy="327.5" r="2.1" fill="#000000"/>
<circle cx="322.6" cy="326.5" r="2.1" fill="#000000"/>
<circle cx="326.6" cy="326.3" r="2.1" fill="#000000"/>
<circle cx="328.3" cy="326.4" r="2.1" fill="#000000"/>
<circle cx="332.5" cy="326.1" r="2.1" fill="#000000"/>
<circle cx="335.4" cy="326.6" r="2.1" fill="#000000"/>
<circle cx="314.0" cy="329.2" r="2.1" fill="#000000"/>
<circle cx="317.1" cy="330.5" r="2.1" fill="#000000"/>
<circle cx="321.6" cy="330.1" r="2.1" fill="#000000"/>
<circle cx="324.4" cy="330.0" r="2.1" fill="#000000"/>
<circle cx="326.9" cy="329.0" r="2.1" fill="#000000"/>
<circle cx="330.0" cy="330.6" r="2.1" fill="#000000"/>
<circle cx="334.7" cy="330.7" r="2.1" fill="#000000"/>
<circle cx="318.2" cy="332.9" r="2.1" fill="#000000"/>
<circle cx="322.8" cy="333.5" r="2.1" fill="#000000"/>
<circle cx="326.2" cy="333.1" r="2.1" fill="#000000"/>
<circle cx="306.7" cy="337.0" r="2.1" fill="#000000"/>
<circle cx="310.3" cy="336.1" r="2.1" fill="#000000"/>
<circle cx="312.4" cy="336.5" r="2.1" fill="#000000"/>
<circle cx="316.2" cy="337.3" r="2.1" fill="#000000"/>
<circle cx="320.2" cy="336.9" r="2.1" fill="#000000"/>
<circle cx="307.7" cy="340.3" r="2.1" fill="#000000"/>
<circle cx="310.9" cy="340.1" r="2.1" fill="#000000"/>
<circle cx="314.2" cy="339.9" r="2.1" fill="#000000"/>
<circle cx="318.0" cy="339.4" r="2.1" fill="#000000"/>
<circle cx="322.2" cy="338.7" r="2.1" fill="#000000"/>
<circle cx="324.1" cy="340.3" r="2.1" fill="#000000"/>
<circle cx="306.7" cy="341.7" r="2.1" fill="#000000"/>
<circle cx="310.9" cy="343.2" r="2.1" fill="#000000"/>
<circle cx="312.6" cy="342.3" r="2.1" fill="#000000"/>
<circle cx="315.9" cy="342.1" r="2.1" fill="#000000"/>
<circle cx="320.1" cy="341.8" r="2.1" fill="#000000"/>
<circle cx="323.6" cy="341.6" r="2.1" fill="#000000"/>
<circle cx="325.9" cy="343.0" r="2.1" fill="#000000"/>
<circle cx="308.2" cy="345.2" r="2.1" fill="#000000"/>
<circle cx="311.8" cy="345.3" r="2.1" fill="#000000"/>
<circle cx="314.7" cy="344.5" r="2.1" fill="#000000"/>
<circle cx="318.7" cy="346.2" r="2.1" fill="#000000"/>
<circle cx="322.4" cy="345.6" r="2.1" fill="#000000"/>
<circle cx="324.6" cy="345.1" r="2.1" fill="#000000"/>
<circle cx="317.2" cy="348.2" r="2.1" fill="#000000"/>
<circle cx="319.1" cy="348.8" r="2.1" fill="#000000"/>
<circle cx="323.1" cy="348.2" r="2.1" fill="#000000"/>
<circle cx="326.0" cy="348.1" r="2.1" fill="#000000"/>
<circle cx="418.8" cy="330.5" r="2.1" fill="#fdbd6c"/>
<circle cx="421.4" cy="333.6" r="2.1" fill="#fdbd6c"/>
<circle cx="424.7" cy="333.5" r="2.1" fill="#fdbd6c"/>
<circle cx="428.3" cy="333.6" r="2.1" fill="#fdbd6c"/>
<circle cx="430.3" cy="333.7" r="2.1" fill="#fdbd6c"/>
<circle cx="434.0" cy="333.5" r="2.1" fill="#fdbd6c"/>
<circle cx="419.3" cy="336.4" r="2.1" fill="#fdbd6c"/>
<circle cx="421.8" cy="336.3" r="2.1" fill="#fdbd6c"/>
<circle cx="425.7" cy="335.4" r="2.1" fill="#fdbd6c"/>
<circle cx="428.6" cy="336.0" r="2.1" fill="#fdbd6c"/>
<circle cx="432.0" cy="335.9" r="2.1" fill="#fdbd6c"/>
<circle cx="435.9" cy="335.8" r="2.1" fill="#fdbd6c"/>
<circle cx="438.3" cy="335.9" r="2.1" fill="#fdbd6c"/>
<circle cx="421.7" cy="338.6" r="2.1" fill="#fdbd6c"/>
<circle cx="424.5" cy="339.6" r="2.1" fill="#fdbd6c"/>
<circle cx="426.6" cy="338.2" r="2.1" fill="#fdbd6c"/>
<circle cx="431.3" cy="339.4" r="2.1" fill="#fdbd6c"/>
<circle cx="434.3" cy="338.2" r="2.1" fill="#fdbd6c"/>
<circle cx="437.2" cy="339.5" r="2.1" fill="#fdbd6c"/>
<circle cx="441.3" cy="339.4" r="2.1" fill="#fdbd6c"/>
<circle cx="443.4" cy="339.4" r="2.1" fill="#fdbd6c"/>
<circle cx="419.4" cy="342.1" r="2.1" fill="#fdbd6c"/>
<circle cx="422.0" cy="341.9" r="2.1" fill="#fdbd6c"/>
<circle cx="425.9" cy="341.8" r="2.1" fill="#fdbd6c"/>
<circle cx="428.8" cy="342.1" r="2.1" fill="#fdbd6c"/>
<circle cx="432.1" cy="341.3" r="2.1" fill="#fdbd6c"/>
<circle cx="435.1" cy="342.0" r="2.1" fill="#fdbd6c"/>
<circle cx="438.3" cy="341.2" r="2.1" fill="#fdbd6c"/>
<circle cx="441.5" cy="341.9" r="2.1" fill="#fdbd6c"/>
<circle cx="445.7" cy="341.8" r="2.1" fill="#fdbd6c"/>
<circle cx="420.6" cy="343.8" r="2.1" fill="#fdbd6c"/>
<circle cx="423.3" cy="345.5" r="2.1" fill="#fdbd6c"/>
<circle cx="426.8" cy="344.2" r="2.1" fill="#fdbd6c"/>
<circle cx="430.3" cy="344.7" r="2.1" fill="#fdbd6c"/>
<circle cx="433.3" cy="344.5" r="2.1" fill="#fdbd6c"/>
<circle cx="437.1" cy="345.2" r="2.1" fill="#fdbd6c"/>
<circle cx="439.8" cy="344.3" r="2.1" fill="#fdbd6c"/>
<circle cx="443.9" cy="345.4" r="2.1" fill="#fdbd6c"/>
<circle cx="447.3" cy="344.5" r="2.1" fill="#fdbd6c"/>
<circle cx="435.2" cy="347.0" r="2.1" fill="#fdbd6c"/>
<circle cx="438.5" cy="347.2" r="2.1" fill="#fdbd6c"/>
<circle cx="441.5" cy="347.2" r="2.1" fill="#fdbd6c"/>
<circle cx="444.9" cy="347.9" r="2.1" fill="#fdbd6c"/>
<circle cx="449.1" cy="346.5" r="2.1" fill="#fdbd6c"/>
<circle cx="443.1" cy="349.6" r="2.1" fill="#fdbd6c"/>
<circle cx="447.0" cy="350.2" r="2.1" fill="#fdbd6c"/>
<circle cx="403.1" cy="327.0" r="2.1" fill="#fdbd6c"/>
<circle cx="407.0" cy="325.8" r="2.1" fill="#fdbd6c"/>
<circle cx="400.3" cy="330.7" r="2.1" fill="#fdbd6c"/>
<circle cx="404.4" cy="329.7" r="2.1" fill="#fdbd6c"/>
<circle cx="410.4" cy="329.9" r="2.1" fill="#fdbd6c"/>
<circle cx="413.9" cy="330.7" r="2.1" fill="#fdbd6c"/>
<circle cx="398.4" cy="333.6" r="2.1" fill="#fdbd6c"/>
<circle cx="402.9" cy="334.5" r="2.1" fill="#fdbd6c"/>
<circle cx="406.8" cy="334.5" r="2.1" fill="#fdbd6c"/>
<circle cx="411.3" cy="333.9" r="2.1" fill="#fdbd6c"/>
<circle cx="415.8" cy="333.7" r="2.1" fill="#fdbd6c"/>
<circle cx="401.4" cy="338.0" r="2.1" fill="#fdbd6c"/>
<circle cx="406.0" cy="338.1" r="2.1" fill="#fdbd6c"/>
<circle cx="409.9" cy="338.9" r="2.1" fill="#fdbd6c"/>
<circle cx="414.6" cy="337.5" r="2.1" fill="#fdbd6c"/>
<circle cx="299.8" cy="248.1" r="2.1" fill="#a0552b"/>
<circle cx="303.5" cy="250.6" r="2.1" fill="#a0552b"/>
<circle cx="316.5" cy="250.6" r="2.1" fill="#a0552b"/>
<circle cx="321.2" cy="255.2" r="2.1" fill="#a0552b"/>
<circle cx="300.0" cy="261.5" r="2.1" fill="#a0552b"/>
<circle cx="300.6" cy="264.4" r="2.1" fill="#a0552b"/>
<circle cx="303.5" cy="263.5" r="2.1" fill="#000000"/>
<circle cx="315.6" cy="260.6" r="2.1" fill="#a0552b"/>
<circle cx="310.0" cy="266.2" r="2.1" fill="#a0552b"/>
<circle cx="300.6" cy="268.1" r="2.1" fill="#a0552b"/>
<circle cx="332.2" cy="265.4" r="2.1" fill="#a0552b"/>
<circle cx="353.5" cy="263.8" r="2.1" fill="#a0552b"/>
<circle cx="341.5" cy="274.8" r="2.1" fill="#a0552b"/>
<circle cx="307.2" cy="279.4" r="2.1" fill="#000000"/>
<circle cx="316.5" cy="281.0" r="2.1" fill="#fdbd6c"/>
<circle cx="327.8" cy="282.2" r="2.1" fill="#a0552b"/>
<circle cx="325.0" cy="286.0" r="2.1" fill="#a0552b"/>
<circle cx="327.2" cy="286.0" r="2.1" fill="#000000"/>
<circle cx="331.5" cy="288.5" r="2.1" fill="#a0552b"/>
<circle cx="341.5" cy="289.0" r="2.1" fill="#000000"/>
<circle cx="347.2" cy="286.5" r="2.1" fill="#a0552b"/>
<circle cx="316.5" cy="287.5" r="2.1" fill="#000000"/>
<circle cx="313.8" cy="289.0" r="2.1" fill="#000000"/>
<circle cx="310.0" cy="289.8" r="2.1" fill="#000000"/>
<circle cx="374.0" cy="280.2" r="2.1" fill="#a0552b"/>
<circle cx="369.4" cy="284.8" r="2.1" fill="#a0552b"/>
<circle cx="381.5" cy="286.9" r="2.1" fill="#a0552b"/>
<circle cx="390.9" cy="289.8" r="2.1" fill="#fdbd6c"/>
<circle cx="359.4" cy="291.2" r="2.1" fill="#a0552b"/>
<circle cx="357.2" cy="295.0" r="2.1" fill="#000000"/>
<circle cx="373.1" cy="293.1" r="2.1" fill="#000000"/>
<circle cx="389.0" cy="294.0" r="2.1" fill="#a0552b"/>
<circle cx="357.2" cy="298.1" r="2.1" fill="#a0552b"/>
<circle cx="310.0" cy="290.2" r="2.1" fill="#000000"/>
<circle cx="314.1" cy="289.5" r="2.1" fill="#000000"/>
<circle cx="313.4" cy="292.1" r="2.1" fill="#000000"/>
<circle cx="317.5" cy="292.5" r="2.1" fill="#000000"/>
<circle cx="321.2" cy="293.2" r="2.1" fill="#000000"/>
<circle cx="317.5" cy="295.9" r="2.1" fill="#a0552b"/>
<circle cx="321.2" cy="297.0" r="2.1" fill="#000000"/>
<circle cx="313.8" cy="296.2" r="2.1" fill="#000000"/>
<circle cx="314.1" cy="300.0" r="2.1" fill="#000000"/>
<circle cx="315.2" cy="298.5" r="2.1" fill="#000000"/>
<circle cx="310.0" cy="297.8" r="2.1" fill="#a0552b"/>
<circle cx="325.8" cy="297.0" r="2.1" fill="#000000"/>
<circle cx="324.2" cy="300.0" r="2.1" fill="#000000"/>
<circle cx="326.5" cy="301.9" r="2.1" fill="#a0552b"/>
<circle cx="331.8" cy="293.2" r="2.1" fill="#000000"/>
<circle cx="333.2" cy="296.2" r="2.1" fill="#000000"/>
<circle cx="331.8" cy="300.0" r="2.1" fill="#000000"/>
<circle cx="334.0" cy="301.1" r="2.1" fill="#000000"/>
<circle cx="302.9" cy="298.5" r="2.1" fill="#a0552b"/>
<circle cx="301.0" cy="299.2" r="2.1" fill="#000000"/>
<circle cx="300.2" cy="301.9" r="2.1" fill="#000000"/>
<circle cx="299.1" cy="303.4" r="2.1" fill="#000000"/>
<circle cx="298.4" cy="301.9" r="2.1" fill="#a0552b"/>
<circle cx="299.9" cy="307.9" r="2.1" fill="#a0552b"/>
<circle cx="301.0" cy="310.9" r="2.1" fill="#000000"/>
<circle cx="299.1" cy="312.0" r="2.1" fill="#000000"/>
<circle cx="299.5" cy="313.9" r="2.1" fill="#000000"/>
<circle cx="308.1" cy="312.4" r="2.1" fill="#000000"/>
<circle cx="317.5" cy="304.5" r="2.1" fill="#000000"/>
<circle cx="320.5" cy="303.4" r="2.1" fill="#000000"/>
<circle cx="323.5" cy="304.5" r="2.1" fill="#000000"/>
<circle cx="328.4" cy="306.8" r="2.1" fill="#000000"/>
<circle cx="315.2" cy="309.0" r="2.1" fill="#000000"/>
<circle cx="318.2" cy="308.2" r="2.1" fill="#000000"/>
<circle cx="307.0" cy="280.0" r="2.1" fill="#000000"/>
<circle cx="314.5" cy="287.3" r="2.1" fill="#000000"/>
<circle cx="310.4" cy="290.6" r="2.1" fill="#000000"/>
<circle cx="317.8" cy="292.2" r="2.1" fill="#000000"/>
<circle cx="321.0" cy="293.8" r="2.1" fill="#000000"/>
<circle cx="312.9" cy="296.3" r="2.1" fill="#000000"/>
<circle cx="309.6" cy="297.9" r="2.1" fill="#a0552b"/>
<circle cx="317.8" cy="296.3" r="2.1" fill="#a0552b"/>
<circle cx="301.5" cy="299.5" r="2.1" fill="#000000"/>
<circle cx="302.3" cy="298.7" r="2.1" fill="#a0552b"/>
<circle cx="299.9" cy="302.8" r="2.1" fill="#000000"/>
<circle cx="299.0" cy="308.5" r="2.1" fill="#a0552b"/>
<circle cx="299.9" cy="312.5" r="2.1" fill="#000000"/>
<circle cx="309.6" cy="312.5" r="2.1" fill="#000000"/>
<circle cx="311.3" cy="321.5" r="2.1" fill="#000000"/>
<circle cx="299.9" cy="336.9" r="2.1" fill="#000000"/>
<circle cx="302.3" cy="337.7" r="2.1" fill="#000000"/>
<circle cx="325.0" cy="297.9" r="2.1" fill="#000000"/>
<circle cx="329.1" cy="296.3" r="2.1" fill="#000000"/>
<circle cx="332.4" cy="293.0" r="2.1" fill="#000000"/>
<circle cx="334.0" cy="297.9" r="2.1" fill="#000000"/>
<circle cx="299.4" cy="338.1" r="2.1" fill="#000000"/>
<circle cx="302.6" cy="337.5" r="2.1" fill="#000000"/>
<circle cx="333.7" cy="344.1" r="2.1" fill="#000000"/>
<circle cx="339.7" cy="343.0" r="2.1" fill="#000000"/>
<circle cx="335.8" cy="334.8" r="2.1" fill="#000000"/>
<circle cx="343.5" cy="339.7" r="2.1" fill="#000000"/>
<circle cx="344.0" cy="333.7" r="2.1" fill="#000000"/>
<circle cx="343.0" cy="335.9" r="2.1" fill="#fdbd6c"/>
<circle cx="341.8" cy="329.9" r="2.1" fill="#fdbd6c"/>
<circle cx="348.4" cy="329.9" r="2.1" fill="#fdbd6c"/>
<circle cx="351.6" cy="335.9" r="2.1" fill="#000000"/>
<circle cx="353.8" cy="335.3" r="2.1" fill="#000000"/>
<circle cx="314.6" cy="331.0" r="2.1" fill="#000000"/>
<circle cx="320.0" cy="333.7" r="2.1" fill="#000000"/>
<circle cx="326.6" cy="332.6" r="2.1" fill="#000000"/>
<circle cx="331.0" cy="333.7" r="2.1" fill="#000000"/>
<circle cx="323.3" cy="327.2" r="2.1" fill="#000000"/>
<circle cx="329.9" cy="327.2" r="2.1" fill="#000000"/>
<circle cx="336.4" cy="327.2" r="2.1" fill="#000000"/>
<circle cx="340.8" cy="328.3" r="2.1" fill="#000000"/>
<circle cx="341.5" cy="294.5" r="2.1" fill="#a0552b"/>
<circle cx="342.5" cy="297.0" r="2.1" fill="#000000"/>
<circle cx="348.0" cy="296.0" r="2.1" fill="#a0552b"/>
<circle cx="351.0" cy="295.5" r="2.1" fill="#000000"/>
<circle cx="350.5" cy="299.0" r="2.1" fill="#000000"/>
<circle cx="357.5" cy="295.0" r="2.1" fill="#000000"/>
<circle cx="356.5" cy="298.0" r="2.1" fill="#a0552b"/>
<circle cx="359.0" cy="298.0" r="2.1" fill="#a0552b"/>
<circle cx="336.5" cy="299.0" r="2.1" fill="#000000"/>
<circle cx="337.0" cy="304.0" r="2.1" fill="#000000"/>
<circle cx="343.5" cy="301.0" r="2.1" fill="#000000"/>
<circle cx="342.5" cy="304.0" r="2.1" fill="#000000"/>
<circle cx="347.0" cy="303.5" r="2.1" fill="#a0552b"/>
<circle cx="356.5" cy="302.5" r="2.1" fill="#000000"/>
<circle cx="355.5" cy="306.5" r="2.1" fill="#000000"/>
<circle cx="359.0" cy="304.5" r="2.1" fill="#a0552b"/>
<circle cx="364.5" cy="305.0" r="2.1" fill="#fdbd6c"/>
<circle cx="367.5" cy="304.5" r="2.1" fill="#a0552b"/>
<circle cx="370.0" cy="303.5" r="2.1" fill="#a0552b"/>
<circle cx="372.2" cy="303.5" r="2.1" fill="#fdbd6c"/>
<circle cx="376.5" cy="306.0" r="2.1" fill="#a0552b"/>
<circle cx="380.5" cy="306.5" r="2.1" fill="#a0552b"/>
<circle cx="383.0" cy="308.0" r="2.1" fill="#a0552b"/>
<circle cx="362.0" cy="307.0" r="2.1" fill="#000000"/>
<circle cx="362.0" cy="310.0" r="2.1" fill="#000000"/>
<circle cx="372.5" cy="308.0" r="2.1" fill="#a0552b"/>
<circle cx="341.5" cy="308.0" r="2.1" fill="#fdbd6c"/>
<circle cx="336.0" cy="309.5" r="2.1" fill="#000000"/>
<circle cx="338.5" cy="313.0" r="2.1" fill="#000000"/>
<circle cx="347.0" cy="309.5" r="2.1" fill="#000000"/>
<circle cx="350.0" cy="311.5" r="2.1" fill="#a0552b"/>
<circle cx="353.0" cy="311.0" r="2.1" fill="#000000"/>
<circle cx="357.5" cy="311.0" r="2.1" fill="#000000"/>
<circle cx="367.0" cy="312.0" r="2.1" fill="#000000"/>
<circle cx="368.5" cy="309.0" r="2.1" fill="#000000"/>
<circle cx="363.0" cy="314.0" r="2.1" fill="#a0552b"/>
<circle cx="370.5" cy="312.5" r="2.1" fill="#a0552b"/>
<circle cx="375.0" cy="312.0" r="2.1" fill="#a0552b"/>
<circle cx="380.0" cy="314.0" r="2.1" fill="#a0552b"/>
<circle cx="383.0" cy="313.0" r="2.1" fill="#a0552b"/>
<circle cx="362.5" cy="316.5" r="2.1" fill="#fdbd6c"/>
<circle cx="366.0" cy="317.5" r="2.1" fill="#a0552b"/>
<circle cx="342.5" cy="317.0" r="2.1" fill="#a0552b"/>
<circle cx="348.0" cy="316.5" r="2.1" fill="#a0552b"/>
<circle cx="352.5" cy="316.5" r="2.1" fill="#000000"/>
<circle cx="369.5" cy="315.5" r="2.1" fill="#a0552b"/>
<circle cx="373.0" cy="318.0" r="2.1" fill="#a0552b"/>
<circle cx="376.0" cy="317.0" r="2.1" fill="#a0552b"/>
<circle cx="378.5" cy="316.5" r="2.1" fill="#000000"/>
<circle cx="382.0" cy="316.0" r="2.1" fill="#a0552b"/>
<circle cx="359.0" cy="320.0" r="2.1" fill="#a0552b"/>
<circle cx="362.0" cy="320.5" r="2.1" fill="#a0552b"/>
<circle cx="363.0" cy="322.5" r="2.1" fill="#000000"/>
<circle cx="378.0" cy="321.0" r="2.1" fill="#fdbd6c"/>
<circle cx="383.0" cy="320.0" r="2.1" fill="#fdbd6c"/>
<circle cx="336.5" cy="318.0" r="2.1" fill="#000000"/>
<circle cx="337.0" cy="322.0" r="2.1" fill="#000000"/>
<circle cx="348.0" cy="320.5" r="2.1" fill="#000000"/>
<circle cx="350.0" cy="323.5" r="2.1" fill="#000000"/>
<circle cx="375.0" cy="323.0" r="2.1" fill="#a0552b"/>
<circle cx="395.5" cy="302.5" r="2.1" fill="#a0552b"/>
<circle cx="395.5" cy="307.0" r="2.1" fill="#a0552b"/>
<circle cx="390.8" cy="309.0" r="2.1" fill="#a0552b"/>
<circle cx="385.5" cy="309.0" r="2.1" fill="#000000"/>
<circle cx="381.0" cy="307.0" r="2.1" fill="#a0552b"/>
<circle cx="393.8" cy="311.8" r="2.1" fill="#a0552b"/>
<circle cx="408.5" cy="311.8" r="2.1" fill="#fdbd6c"/>
<circle cx="416.8" cy="309.0" r="2.1" fill="#fdbd6c"/>
<circle cx="383.0" cy="313.0" r="2.1" fill="#a0552b"/>
<circle cx="386.0" cy="314.5" r="2.1" fill="#a0552b"/>
<circle cx="396.0" cy="316.5" r="2.1" fill="#a0552b"/>
<circle cx="403.0" cy="318.0" r="2.1" fill="#a0552b"/>
<circle cx="410.0" cy="318.5" r="2.1" fill="#a0552b"/>
<circle cx="423.0" cy="317.2" r="2.1" fill="#fdbd6c"/>
<circle cx="416.0" cy="319.2" r="2.1" fill="#fdbd6c"/>
<circle cx="427.0" cy="318.5" r="2.1" fill="#fdbd6c"/>
<circle cx="347.4" cy="322.4" r="2.1" fill="#000000"/>
<circle cx="351.0" cy="323.6" r="2.1" fill="#000000"/>
<circle cx="357.0" cy="324.8" r="2.1" fill="#000000"/>
<circle cx="345.6" cy="326.6" r="2.1" fill="#000000"/>
<circle cx="349.8" cy="327.2" r="2.1" fill="#000000"/>
<circle cx="354.0" cy="327.8" r="2.1" fill="#000000"/>
<circle cx="360.0" cy="332.6" r="2.1" fill="#000000"/>
<circle cx="366.0" cy="331.4" r="2.1" fill="#000000"/>
<circle cx="368.4" cy="329.0" r="2.1" fill="#000000"/>
<circle cx="351.6" cy="335.6" r="2.1" fill="#000000"/>
<circle cx="355.8" cy="335.6" r="2.1" fill="#000000"/>
<circle cx="357.6" cy="338.6" r="2.1" fill="#000000"/>
<circle cx="371.4" cy="336.8" r="2.1" fill="#000000"/>
<circle cx="373.2" cy="335.0" r="2.1" fill="#000000"/>
<circle cx="361.8" cy="345.8" r="2.1" fill="#000000"/>
<circle cx="381.6" cy="341.6" r="2.1" fill="#000000"/>
<circle cx="380.4" cy="345.8" r="2.1" fill="#000000"/>
<circle cx="345.6" cy="334.4" r="2.1" fill="#000000"/>
<circle cx="348.6" cy="330.8" r="2.1" fill="#fdbd6c"/>
<circle cx="363.0" cy="327.2" r="2.1" fill="#fdbd6c"/>
<circle cx="373.2" cy="330.8" r="2.1" fill="#fdbd6c"/>
<circle cx="377.4" cy="330.2" r="2.1" fill="#fdbd6c"/>
<circle cx="381.0" cy="333.2" r="2.1" fill="#fdbd6c"/>
<circle cx="376.8" cy="333.8" r="2.1" fill="#fdbd6c"/>
<circle cx="384.6" cy="329.0" r="2.1" fill="#fdbd6c"/>
<circle cx="388.2" cy="335.6" r="2.1" fill="#fdbd6c"/>
<circle cx="391.2" cy="335.6" r="2.1" fill="#fdbd6c"/>
<circle cx="392.4" cy="322.4" r="2.1" fill="#fdbd6c"/>
<circle cx="377.4" cy="344.0" r="2.1" fill="#fdbd6c"/>
<circle cx="375.6" cy="323.6" r="2.1" fill="#a0552b"/>
<circle cx="387.6" cy="326.0" r="2.1" fill="#a0552b"/>
<circle cx="387.0" cy="332.0" r="2.1" fill="#a0552b"/>
<circle cx="377.4" cy="341.6" r="2.1" fill="#a0552b"/>
<circle cx="394.2" cy="344.0" r="2.1" fill="#a0552b"/>
<circle cx="365.4" cy="326.0" r="2.1" fill="#a0552b"/>
<circle cx="378.0" cy="321.0" r="2.1" fill="#fdbd6c"/>
<circle cx="385.0" cy="323.0" r="2.1" fill="#fdbd6c"/>
<circle cx="384.0" cy="328.5" r="2.1" fill="#fdbd6c"/>
<circle cx="394.5" cy="327.5" r="2.1" fill="#fdbd6c"/>
<circle cx="378.0" cy="330.5" r="2.1" fill="#fdbd6c"/>
<circle cx="381.5" cy="334.0" r="2.1" fill="#fdbd6c"/>
<circle cx="389.5" cy="335.5" r="2.1" fill="#fdbd6c"/>
<circle cx="392.5" cy="336.0" r="2.1" fill="#fdbd6c"/>
<circle cx="408.0" cy="311.5" r="2.1" fill="#fdbd6c"/>
<circle cx="422.0" cy="317.5" r="2.1" fill="#fdbd6c"/>
<circle cx="416.0" cy="319.5" r="2.1" fill="#fdbd6c"/>
<circle cx="399.0" cy="339.0" r="2.1" fill="#fdbd6c"/>
<circle cx="402.0" cy="341.5" r="2.1" fill="#fdbd6c"/>
<circle cx="408.0" cy="337.0" r="2.1" fill="#fdbd6c"/>
<circle cx="413.0" cy="336.0" r="2.1" fill="#fdbd6c"/>
<circle cx="419.0" cy="335.0" r="2.1" fill="#fdbd6c"/>
<circle cx="423.0" cy="339.0" r="2.1" fill="#fdbd6c"/>
<circle cx="419.0" cy="343.0" r="2.1" fill="#fdbd6c"/>
<circle cx="416.0" cy="347.5" r="2.1" fill="#fdbd6c"/>
<circle cx="424.0" cy="347.0" r="2.1" fill="#fdbd6c"/>
<circle cx="376.0" cy="334.0" r="2.1" fill="#fdbd6c"/>
<circle cx="423.4" cy="317.4" r="2.1" fill="#fdbd6c"/>
<circle cx="428.9" cy="318.1" r="2.1" fill="#fdbd6c"/>
<circle cx="421.4" cy="329.1" r="2.1" fill="#fdbd6c"/>
<circle cx="431.0" cy="328.4" r="2.1" fill="#fdbd6c"/>
<circle cx="428.3" cy="327.0" r="2.1" fill="#fdbd6c"/>
<circle cx="445.4" cy="339.4" r="2.1" fill="#fdbd6c"/>
<circle cx="452.3" cy="342.8" r="2.1" fill="#fdbd6c"/>
<circle cx="453.0" cy="347.6" r="2.1" fill="#fdbd6c"/>
<circle cx="448.9" cy="349.7" r="2.1" fill="#fdbd6c"/>
<circle cx="381.0" cy="313.0" r="2.1" fill="#a0552b"/>
<circle cx="385.0" cy="314.0" r="2.1" fill="#a0552b"/>
<circle cx="388.0" cy="316.0" r="2.1" fill="#a0552b"/>
<circle cx="383.0" cy="318.0" r="2.1" fill="#a0552b"/>
<circle cx="386.0" cy="319.0" r="2.1" fill="#a0552b"/>
<circle cx="391.0" cy="317.5" r="2.1" fill="#a0552b"/>
<circle cx="395.0" cy="317.0" r="2.1" fill="#a0552b"/>
<circle cx="392.5" cy="322.0" r="2.1" fill="#a0552b"/>
<circle cx="388.0" cy="325.5" r="2.1" fill="#a0552b"/>
<circle cx="390.0" cy="325.5" r="2.1" fill="#a0552b"/>
<circle cx="376.5" cy="323.5" r="2.1" fill="#a0552b"/>
<circle cx="393.5" cy="311.5" r="2.1" fill="#a0552b"/>
<circle cx="387.0" cy="332.0" r="2.1" fill="#a0552b"/>
<circle cx="403.0" cy="318.0" r="2.1" fill="#a0552b"/>
<circle cx="410.0" cy="319.0" r="2.1" fill="#a0552b"/>
<circle cx="405.0" cy="321.0" r="2.1" fill="#a0552b"/>
<circle cx="407.0" cy="325.0" r="2.1" fill="#a0552b"/>
<circle cx="410.0" cy="325.0" r="2.1" fill="#a0552b"/>
<circle cx="413.0" cy="323.0" r="2.1" fill="#a0552b"/>
<circle cx="417.0" cy="321.0" r="2.1" fill="#a0552b"/>
<circle cx="415.0" cy="326.0" r="2.1" fill="#a0552b"/>
<circle cx="414.0" cy="329.0" r="2.1" fill="#a0552b"/>
<circle cx="416.0" cy="330.0" r="2.1" fill="#a0552b"/>
<circle cx="402.0" cy="331.5" r="2.1" fill="#a0552b"/>
<circle cx="406.0" cy="334.5" r="2.1" fill="#a0552b"/>
<circle cx="415.0" cy="340.0" r="2.1" fill="#a0552b"/>
<circle cx="424.0" cy="325.0" r="2.1" fill="#a0552b"/>
<circle cx="377.5" cy="341.0" r="2.1" fill="#a0552b"/>
<circle cx="395.5" cy="344.0" r="2.1" fill="#a0552b"/>
<circle cx="408.5" cy="344.0" r="2.1" fill="#a0552b"/>
<circle cx="378.5" cy="316.5" r="2.1" fill="#000000"/>
<circle cx="381.5" cy="341.5" r="2.1" fill="#000000"/>
<circle cx="380.5" cy="346.0" r="2.1" fill="#000000"/>
<circle cx="385.0" cy="310.0" r="2.1" fill="#000000"/>
<circle cx="425.5" cy="323.6" r="2.1" fill="#a0552b"/>
<circle cx="429.6" cy="325.4" r="2.1" fill="#a0552b"/>
<circle cx="424.8" cy="325.6" r="2.1" fill="#a0552b"/>
<rect x="297.6" y="221.0" width="200.00" height="146.20" fill="none" stroke="#505050" stroke-width="1"/>
<line x1="297.60" y1="367.2" x2="297.60" y2="365.0" stroke="#505050" stroke-width="1"/>
<line x1="297.60" y1="221.0" x2="297.60" y2="223.2" stroke="#505050" stroke-width="1"/>
<text x="297.60" y="382.80" text-anchor="middle" font-size="10.3">0</text>
<line x1="347.60" y1="367.2" x2="347.60" y2="365.0" stroke="#505050" stroke-width="1"/>
<line x1="347.60" y1="221.0" x2="347.60" y2="223.2" stroke="#505050" stroke-width="1"/>
<text x="347.60" y="382.80" text-anchor="middle" font-size="10.3">0.1</text>
<line x1="397.60" y1="367.2" x2="397.60" y2="365.0" stroke="#505050" stroke-width="1"/>
<line x1="397.60" y1="221.0" x2="397.60" y2="223.2" stroke="#505050" stroke-width="1"/>
<text x="397.60" y="382.80" text-anchor="middle" font-size="10.3">0.2</text>
<line x1="447.60" y1="367.2" x2="447.60" y2="365.0" stroke="#505050" stroke-width="1"/>
<line x1="447.60" y1="221.0" x2="447.60" y2="223.2" stroke="#505050" stroke-width="1"/>
<text x="447.60" y="382.80" text-anchor="middle" font-size="10.3">0.3</text>
<line x1="497.60" y1="367.2" x2="497.60" y2="365.0" stroke="#505050" stroke-width="1"/>
<line x1="497.60" y1="221.0" x2="497.60" y2="223.2" stroke="#505050" stroke-width="1"/>
<text x="497.60" y="382.80" text-anchor="middle" font-size="10.3">0.4</text>
<line x1="297.6" y1="367.20" x2="299.8" y2="367.20" stroke="#505050" stroke-width="1"/>
<line x1="497.6" y1="367.20" x2="495.40000000000003" y2="367.20" stroke="#505050" stroke-width="1"/>
<text x="292.10" y="371.50" text-anchor="end" font-size="10.3">3</text>
<line x1="297.6" y1="337.96" x2="299.8" y2="337.96" stroke="#505050" stroke-width="1"/>
<line x1="497.6" y1="337.96" x2="495.40000000000003" y2="337.96" stroke="#505050" stroke-width="1"/>
<text x="292.10" y="342.26" text-anchor="end" font-size="10.3">4</text>
<line x1="297.6" y1="308.72" x2="299.8" y2="308.72" stroke="#505050" stroke-width="1"/>
<line x1="497.6" y1="308.72" x2="495.40000000000003" y2="308.72" stroke="#505050" stroke-width="1"/>
<text x="292.10" y="313.02" text-anchor="end" font-size="10.3">5</text>
<line x1="297.6" y1="279.48" x2="299.8" y2="279.48" stroke="#505050" stroke-width="1"/>
<line x1="497.6" y1="279.48" x2="495.40000000000003" y2="279.48" stroke="#505050" stroke-width="1"/>
<text x="292.10" y="283.78" text-anchor="end" font-size="10.3">6</text>
<line x1="297.6" y1="250.24" x2="299.8" y2="250.24" stroke="#505050" stroke-width="1"/>
<line x1="497.6" y1="250.24" x2="495.40000000000003" y2="250.24" stroke="#505050" stroke-width="1"/>
<text x="292.10" y="254.54" text-anchor="end" font-size="10.3">7</text>
<line x1="297.6" y1="221.00" x2="299.8" y2="221.00" stroke="#505050" stroke-width="1"/>
<line x1="497.6" y1="221.00" x2="495.40000000000003" y2="221.00" stroke="#505050" stroke-width="1"/>
<text x="292.10" y="225.30" text-anchor="end" font-size="10.3">8</text>
<text x="397.60" y="397.30" text-anchor="middle" font-size="11.3">Porosity (v/v)</text>
<text transform="translate(274.10,293.50) rotate(-90)" text-anchor="middle" font-size="11.3" letter-spacing="0.33">S-impedance (km/s g/cm<tspan font-size="8" dy="-5.2">3</tspan><tspan dy="5.2">)</tspan></text>
<defs><linearGradient id="cb" x1="0" y1="1" x2="0" y2="0">
<stop offset="0.000" stop-color="#352a87"/>
<stop offset="0.050" stop-color="#353eaf"/>
<stop offset="0.100" stop-color="#1b55d7"/>
<stop offset="0.150" stop-color="#036ae1"/>
<stop offset="0.200" stop-color="#0f77db"/>
<stop offset="0.250" stop-color="#1484d4"/>
<stop offset="0.300" stop-color="#0d93d2"/>
<stop offset="0.350" stop-color="#06a0cd"/>
<stop offset="0.400" stop-color="#07aac1"/>
<stop offset="0.450" stop-color="#18b1b2"/>
<stop offset="0.500" stop-color="#33b8a1"/>
<stop offset="0.550" stop-color="#55bd8e"/>
<stop offset="0.600" stop-color="#7abf7c"/>
<stop offset="0.650" stop-color="#9bbf6f"/>
<stop offset="0.700" stop-color="#b8bd63"/>
<stop offset="0.750" stop-color="#d3bb58"/>
<stop offset="0.800" stop-color="#ecb94c"/>
<stop offset="0.850" stop-color="#fec13a"/>
<stop offset="0.900" stop-color="#fad12b"/>
<stop offset="0.950" stop-color="#f5e31e"/>
<stop offset="1.000" stop-color="#f9fb0e"/>
</linearGradient></defs>
<rect x="511.0" y="18.3" width="12.20" height="146.20" fill="url(#cb)" stroke="#2a2a2a" stroke-width="0.6" stroke-opacity="0.8"/>
<line x1="521.2" y1="164.50" x2="523.2" y2="164.50" stroke="#505050" stroke-width="1"/>
<text x="527.70" y="168.90" font-size="10.3">0</text>
<line x1="521.2" y1="142.58" x2="523.2" y2="142.58" stroke="#505050" stroke-width="1"/>
<text x="527.70" y="146.98" font-size="10.3">0.1</text>
<line x1="521.2" y1="120.66" x2="523.2" y2="120.66" stroke="#505050" stroke-width="1"/>
<text x="527.70" y="125.06" font-size="10.3">0.2</text>
<line x1="521.2" y1="98.74" x2="523.2" y2="98.74" stroke="#505050" stroke-width="1"/>
<text x="527.70" y="103.14" font-size="10.3">0.3</text>
<line x1="521.2" y1="76.82" x2="523.2" y2="76.82" stroke="#505050" stroke-width="1"/>
<text x="527.70" y="81.22" font-size="10.3">0.4</text>
<line x1="521.2" y1="54.90" x2="523.2" y2="54.90" stroke="#505050" stroke-width="1"/>
<text x="527.70" y="59.30" font-size="10.3">0.5</text>
<line x1="521.2" y1="32.99" x2="523.2" y2="32.99" stroke="#505050" stroke-width="1"/>
<text x="527.70" y="37.39" font-size="10.3">0.6</text>
<text x="551.3" y="10.2" text-anchor="end" font-size="11.3">Clay volume (v/v)</text>
</svg></body></html>
